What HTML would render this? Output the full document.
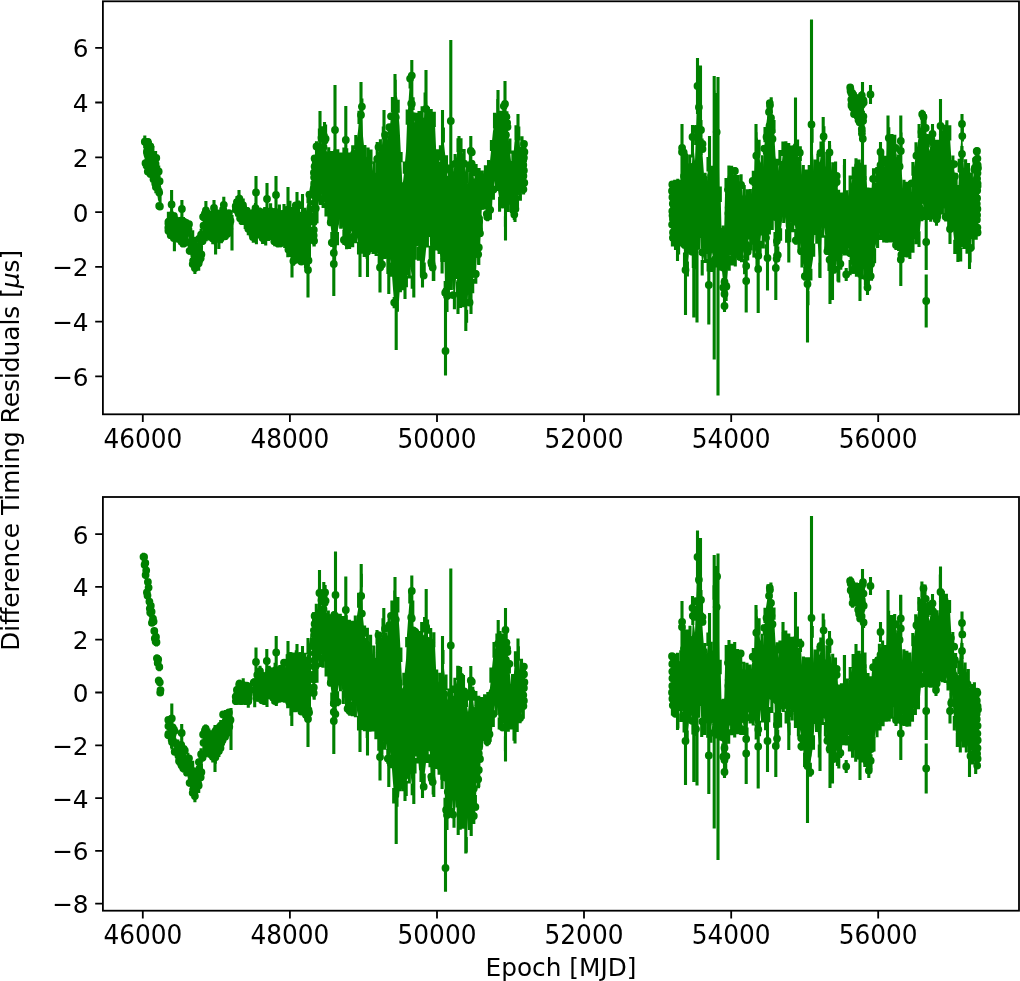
<!DOCTYPE html>
<html lang="en"><head><meta charset="utf-8"><title>Difference Timing Residuals</title>
<style>html,body{margin:0;padding:0;background:#fff}body{width:1020px;height:981px;overflow:hidden}</style></head>
<body>
<svg width="1020" height="981" viewBox="0 0 1020 981" style="display:block;font-family:'DejaVu Sans','Liberation Sans',sans-serif;font-size:24.8px;fill:#000">
<rect width="1020" height="981" fill="#fff"/>
<g id="p1"><polygon points="143.6,141.9 145.1,141.6 145.5,141.5 146.3,142.3 146.6,142.6 148,144 148.1,144.1 149.6,145.3 151.1,146.5 151.2,146.6 152.6,149.3 152.8,149.7 154.1,152.2 154.5,153 155.6,157.5 156.1,159.6 156.9,163.2 157.1,164.1 158,168.1 158.6,170.7 159.4,174.3 160.1,179.5 160.2,180.3 160.7,184 161.6,189.4 161.6,205.4 160.7,205.8 160.2,206 160.1,205.7 159.4,203.8 158.6,201.6 158,200 157.1,192.9 156.9,191.3 156.1,188 155.6,186 154.5,181.5 154.1,179.7 152.8,174 152.6,173.8 151.2,172.7 151.1,172.6 149.6,171.3 148.1,170.1 148,170 146.6,164.7 146.3,163.6 145.5,161.2 145.1,160 143.6,155.6" fill="#008000"/>
<polygon points="166.4,217.9 167.9,218.5 169,218 169.4,218 170.9,218 172.4,218 173.2,218 173.9,218 174,218 175.4,221 176.9,224.2 177.3,225 178.4,223.8 179,223.1 179.9,222.1 180,222 181.4,222.7 182.9,223.4 183,223.5 184.4,224.2 185.9,224.9 186,225 186.3,225.2 187.4,226 188.7,227 188.7,243.5 187.4,240.8 186.3,238.6 186,239 185.9,239.2 184.4,241.4 183,243.5 182.9,243.3 181.4,240.9 180,238.6 179.9,238.5 179,237 178.4,236.8 177.3,236.5 176.9,236.4 175.4,235.9 174,235.5 173.9,235.5 173.2,235.3 172.4,234.4 170.9,232.7 169.4,231 169,230.5 167.9,227.8 166.4,225.5" fill="#008000"/>
<polygon points="188.7,227 190.2,226.6 190.4,226.5 191.2,230.1 191.7,232.4 193.2,239.2 193.6,241 194.7,242.8 195.3,243.8 196,245 196.2,244.7 197.7,242 198.5,240.6 199.2,239.4 200,238 200.7,235.3 201.8,231.1 202.2,229.5 202.6,228 202.6,243.5 202.2,250.1 201.8,256.6 200.7,259.3 200,261 199.2,263 198.5,264.7 197.7,265.7 196.2,267.6 196,267.9 195.3,268.8 194.7,267.9 193.6,266.3 193.2,264.7 191.7,258.6 191.2,256.6 190.4,252.4 190.2,251.4 188.7,243.5" fill="#008000"/>
<polygon points="202.6,220 204.1,217.3 205.6,214.5 205.9,214 206.7,214.8 207.1,215.2 208.6,216.6 210,218 210.1,217.9 211.6,216 213.1,214.1 214,213 214.6,213.5 215.6,214.3 216.1,214.7 217.6,215.9 219,217 219.1,216.9 219.7,216 220.6,214.7 222.1,212.5 223.6,210.3 223.8,210 224.6,211 225.1,211.6 226.6,213.4 227.9,215 228.1,215.1 229.5,216 229.6,216 231.1,217 231.1,232.1 229.6,230.6 229.5,230.5 228.1,231.4 227.9,231.5 226.6,232.4 225.1,233.4 224.6,233.7 223.8,234.5 223.6,234.7 222.1,236.2 220.6,237.7 219.7,238.6 219.1,238.8 219,238.8 217.6,239.3 216.1,239.8 215.6,240 214.6,239.2 214,238.8 213.1,238.1 211.6,237 210.1,236 210,235.9 208.6,235 207.1,234 206.7,233.7 205.9,234.7 205.6,235.1 204.1,237.1 202.6,239" fill="#008000"/>
<polygon points="235,201.9 236.5,201.8 237.7,201.7 238,201.5 238.5,201 239.5,201.2 241,201.6 242.5,202 242.6,202 244,206.4 244.2,207 245.5,211.1 245.8,212 247,213.1 248.5,214.6 250,216 250,230.5 248.5,228.8 247,227.1 245.8,225.8 245.5,225.5 244.2,224 244,223.6 242.6,220.8 242.5,220.6 241,217.6 239.5,214.6 238.5,212.6 238,211.6 237.7,211 236.5,209.7 235,208" fill="#008000"/>
<polygon points="248.5,218.4 250,217 251.5,215.7 252,215.2 253,214.3 254.5,212.9 256,211.6 257.5,212.4 259,213.2 260.5,214 262,214.8 263.5,214.3 265,213.9 266.5,213.4 268,213 269.5,212.9 271,212.8 272.5,212.7 274,212.6 275.5,212.4 276,212.4 277,212.7 278.5,213.1 280,213.5 281.5,214 283,214.4 283,239.6 281.5,239.2 280,238.7 278.5,238.3 277,237.9 276,237.6 275.5,237.6 274,237.4 272.5,237.3 271,237.2 269.5,237.1 268,237 266.5,237.3 265,237.6 263.5,237.9 262,238.2 260.5,237.2 259,236.3 257.5,235.3 256,234.4 254.5,235.3 253,236.2 252,236.8 251.5,236.5 250,235.5 248.5,234.6" fill="#008000"/>
<polygon points="283,214.8 284.5,214.1 286,213.4 287.5,212.5 288,212 289,212.5 290.5,213.2 292,214 293.5,213.2 295,212.5 296.5,211.8 298,211 299.5,211.5 301,212 302.5,212.5 304,213 305.5,211.5 306,211 307,205 308,199 308.5,196 310,187 311,183 311,260 310,259 308.5,257.5 308,257 307,257 306,257 305.5,256.8 304,256 302.5,255.5 301,255 299.5,254.5 298,254 296.5,253.8 295,253.5 293.5,253.2 292,253 290.5,250.8 289,248.5 288,247 287.5,246.2 286,244.4 284.5,242.8 283,241.2" fill="#008000"/>
<polygon points="312.5,171 313,169 314.5,163 315,161 316,155.5 317,150 317.5,147.4 319,139.6 319.5,137 320.5,143 320.6,143.6 321,146 322,139.5 323,133 323.5,133.2 325,133.8 325.5,134 326,141.7 326.5,149.3 327,157 328,157.5 329.5,158.2 329.6,158.3 331,159 332.5,158 333.7,157.2 334,157 335.5,158 336.5,158.7 337,159 338,159.4 338.5,159.6 340,160.2 341.5,160.8 342,161 342.5,160.2 343,159.4 344.5,157 345,157.3 346,157.9 347.5,158.7 348,159 349,159 350.5,159 351.5,159 352,159 353.2,155.2 353.5,154.3 355,149.6 355.5,148 356,144.6 356.5,141.2 358,131 359.4,114.9 359.5,113.8 360,108 361,103.3 361.5,101 362,112.7 362.5,124.3 363,136 364,146 365,156 365.5,156.3 367,157.3 367.4,157.6 368,158 368.5,158.4 370,159.5 371.5,160.6 372,161 373,171 374.5,172.2 375,172.6 375.5,173 376,154 377,153.2 377.5,152.9 379,151.8 380,151 380.5,149.5 381,148 382,145 383,137.7 383.5,134.1 384.2,129 385,136.1 386,145 386.5,142.8 388,136.3 388.3,135 389,132 389.5,128.4 390,124.8 391,117.6 391.5,114 392.5,107.6 393,104.4 394,98 395.5,89.6 395.6,89 397,96.4 397.5,99 398.5,112.5 399,119.2 399.5,126 400,136 400.5,146 401,156 401.5,166 402.5,186 403,181.7 404,173 404.5,167.5 405.4,157.6 406,151 407,124 407.5,116.6 408,109.2 409,94.4 409.5,87 410.5,83 412,77 413.1,105.6 413.5,116 415,123 415.5,123.5 416.5,124.5 418,126 419,122.7 419.5,121 421,116 422.5,117 423,117.3 424,118 425.5,97.8 426.3,87 427,99.8 427.3,105.2 428,118 428.5,118 429.8,118 430,118 430.6,118.3 431.5,118.8 432,119 432.2,119.3 433,120.7 433.5,121.5 434.5,123.2 435,124 435.5,135.3 436,146.7 436.5,158 437.5,159.1 439,160.9 439.6,161.5 440,162 440.4,157 440.5,155.8 442,137.2 442.5,131 443.5,139.8 444.5,148.6 445,153 446.5,166.8 447.5,176 448,176 449.5,176 451,174.1 452,172.9 452.5,172.2 453.5,171 454,168.4 454.3,166.9 455.5,160.8 456,158.2 457,153.1 458,148 458.3,148 458.5,148 460,148 460.8,148 461.5,148 462,148 463,154 464,160 464.5,163 465,166 466,172 466.2,173.2 467.5,181 468,184 469,173 469.8,164.2 470.5,156.5 471,151 471.4,154.7 472,160.3 473,169.7 473.5,174.3 474,179 475,176 476,173 476.5,173.8 477,174.5 478,176 479,177.5 479.5,178.2 480,179 481,178.5 482,176.1 482.5,175.9 484,175.3 485,174.9 485.5,175.6 486,176 487,174.3 488.5,171.8 489,171 490,161 491,151 491.5,146 492,141 492.5,136 493,131 494.5,124.5 495,122.3 496,118 496.7,114.3 497.5,110.2 498.3,106 498.5,107.1 499,109.9 500,115.4 500.5,118.2 501,121 501.5,120.5 502,120 503,119 503.5,114.7 505,101.6 505.3,99 505.6,103.2 506.5,115.9 507,123 508,132.2 509.5,146 511,161 512.5,161 513,161 514,148.3 514.5,142 515.1,139.8 515.5,138.3 517,132.7 518,129 518.5,133.5 519.5,142.5 520,147 521.5,147 523,147 523.6,149.1 524.5,151.9 525,153 525,182.9 524.5,183.8 523.6,186 523,192 521.5,192 520,192 519.5,192 518.5,197.3 518,200 517,200 515.5,209.1 515.1,211.5 514.5,210 514,208.7 513,206.1 512.5,204.8 511,201 509.5,201 508,201 507,201 506.5,211.2 505.6,229.5 505.3,214 505,198.5 503.5,198.5 503,198.5 502,198.5 501.5,198.5 501,200.1 500.5,201.8 500,203.4 499,197.1 498.5,194 498.3,192.6 497.5,186.8 496.7,181 496,181 495,181 494.5,184.2 493,193.8 492.5,197 492,210 491.5,210 491,210 490,210 489,210 488.5,210 487,210 486,210 485.5,206.5 485,203.3 484,203.4 482.5,203.5 482,203.6 481,229 480,241.5 479.5,247.8 479,254 478,252.5 477,251 476.5,262.5 476,274 475,275.7 474,277.3 473.5,278.2 473,279 472,293.9 471.4,302.9 471,300.9 470.5,298.3 469.8,294.7 469,294.7 468,294.7 467.5,301.7 466.2,320 466,317.8 465,306.6 464.5,301.1 464,295.5 463,295.5 462,295.5 461.5,295.5 460.8,295.5 460,298 458.5,302.6 458.3,303.2 458,297.6 457,279 456,279 455.5,285.1 454.3,299.6 454,297 453.5,292.8 452.5,284.3 452,280 451,285 449.5,285 448,285 447.5,285 446.5,285 445,285 444.5,262 443.5,262 442.5,262 442,262 440.5,262 440.4,262 440,254 439.6,246 439,245.3 437.5,243.4 436.5,242.2 436,241.6 435.5,241 435,248.5 434.5,256 433.5,271 433,267.9 432.2,263 432,263 431.5,263 430.6,263 430,243.5 429.8,237 428.5,237 428,237 427.3,237 427,240 426.3,247 425.5,255 424,268.2 423,277 422.5,272.8 421,260 419.5,260 419,260 418,244 416.5,244 415.5,244 415,252.9 413.5,279.7 413.1,286.8 412,278.4 410.5,267 409.5,267 409,267 408,267 407.5,271 407,274.9 406,282.8 405.4,287.6 404.5,284 404,282 403,278 402.5,278.2 401.5,278.6 401,278.8 400.5,279 400,286.3 399.5,293.7 399,301 398.5,301 397.5,301 397,301 395.6,301 395.5,301 394,301 393,289 392.5,282.3 391.5,269 391,265.7 390,259 389.5,260.5 389,261.9 388.3,264 388,262.6 386.5,255.8 386,253.5 385,249 384.2,252.2 383.5,255 383,257 382,259 381,261 380.5,260 380,259 379,257 377.5,251 377,249 376,246.5 375.5,245.2 375,244 374.5,243.7 373,242.8 372,242.2 371.5,241.9 370,241 368.5,246.8 368,248.7 367.4,251 367,250.3 365.5,247.8 365,247 364,245.3 363,243.7 362.5,242.8 362,242 361.5,243.7 361,245.5 360,248.9 359.5,250.7 359.4,251 358,243.2 356.5,234.8 356,232 355.5,233.2 355,234.5 353.5,238.2 353.2,239 352,233.4 351.5,231 350.5,234.4 349,239.5 348,239.1 347.5,238.9 346,238.4 345,238 344.5,236.2 343,230.8 342.5,229 342,227 341.5,225 340,219 338.5,226.5 338,229 337,243.7 336.5,251 335.5,252.1 334,253.7 333.7,254 332.5,242.9 331,229 329.6,215 329.5,214.8 328,211.4 327,209.2 326.5,208.1 326,207 325.5,205.7 325,204.3 323.5,200.3 323,199 322,196.5 321,194 320.6,193 320.5,193.5 319.5,198.5 319,201 317.5,211 317,214.3 316,221 315,228.7 314.5,232.5 313,244 312.5,248" fill="#008000"/>
<polygon points="671.2,191 672.7,191 673,191 674.2,191 675.7,191 676,191 677.2,190.2 677.5,190 678.7,189.2 679,189 680.2,189 681,189 681.7,167.5 682.4,146 683,152.8 683.2,155 684,164 684.7,163.9 685.7,163.8 686.2,163.7 687.7,163.5 688,163.5 689.2,163.3 690,163.2 690.7,163.2 692,163 692.2,159 693,143 693.7,149.3 693.8,150.2 695,161 695.2,155 696,131 696.6,112.2 696.7,109.1 697.6,81 698.2,81 699,81 699.7,81 700.3,81 700.5,93.2 701.2,136 702,147.1 702.7,156.8 703,161 704.2,177 704.5,181 705.7,181 707,181 707.2,178.4 707.5,174.5 708.7,158.8 709.3,151 710.2,164.8 711,177 711.7,177 712,177 713,177 713.2,164.3 714,113.7 714.2,101 714.7,101 716.2,101 717.7,101 717.8,101 719.2,176.8 719.5,193 720,196.1 720.7,200.4 720.8,201 721.5,229 722,230.7 722.2,231.3 723.3,235 723.5,233 723.7,231 724.3,225 724.8,203.9 725.2,187 726.5,181.4 726.7,180.6 728,175 728.2,175 729.7,175 731.2,175 732.7,175 734,175 734.2,175.5 735,177.5 735.7,179.3 736,180 737,182.5 737.2,183 738,185 738.7,185 740.2,185 741.7,185 742,185 743,199 743.2,198.5 744.7,194.7 745,194 746,196.3 746.2,196.8 747.7,200.3 748,201 748.5,201 749.2,201 750,201 750.7,196.4 752,188 752.2,187.1 753.7,180.3 754,179 755.2,155 755.8,143 756.7,140.3 757.8,137 758.2,141.4 759.7,157.7 760,161 761,163 761.2,163.4 762.7,166.4 763,167 764,151 764.2,148.5 765,138.5 765.7,129.7 766,126 767.2,117 768,111 768.7,109.2 769.7,106.7 770,106 770.2,106.5 771.7,110.3 772,111 773.2,121.8 774,129 774.5,138 774.7,141.6 775.5,156 775.9,158.9 776.2,161.1 777,167 777.7,169.8 778,171 779.2,165 779.5,163.5 780,161 780.7,161 782,161 782.2,159 783.2,149 783.5,149.4 783.7,149.6 785,151.2 785.2,151.5 785.6,152 786.7,152.6 788.2,153.4 788.4,153.6 789.7,154.3 790.5,154.7 791,155 791.2,155.5 792.5,159 792.7,159 794.2,159 794.5,159 795,141.1 795.7,116 796.5,130.3 797.2,142.7 798,157 798.7,157 800,157 800.2,157 801,157 801.7,169.6 802,175 803.2,175.6 804,176.1 804.7,176.4 806,177.1 806.2,177.3 807.6,178 807.7,177.9 809.2,176.7 809.5,176.4 810,176 810.7,157.5 811,149.5 811.7,131 812.2,139.7 813,153.6 813.7,165.8 814,171 814.5,170 815.2,168.7 816.6,166 816.7,165.9 817,165.4 818.2,163.6 819.7,161.4 819.9,161.1 820,161 821.2,150.7 822,143.9 822.7,137.9 823.5,131 824,139.6 824.2,143 825.6,167 825.7,166.7 826.4,164.4 827.2,161.8 828,159.2 828.7,156.9 829.6,154 830.2,158.3 830.5,160.4 831.7,168.9 832,171 832.2,171.1 833.2,171.7 834.5,172.5 834.7,172.6 836,173.4 836.2,173.5 837,174 837.7,186.6 838.3,197.4 838.5,201 839.2,201.6 840.5,202.7 840.7,202.9 842,204 842.2,201.3 843.5,183.8 843.7,181.1 844.3,173 845.2,183.8 846.7,201.8 846.8,203 848.2,195.4 849,191 849.7,188.4 850,187.3 851.2,182.9 851.7,181 852.7,177.2 853.3,175 854.2,172.3 855,169.8 855.7,167.7 856.6,165 857.2,166.5 858.7,170.3 859,171 859.8,171.8 860.2,172.2 861.7,173.7 863,175 863.2,175.2 864,176 864.7,176 866,176 866.2,176 866.5,176 867.5,196 867.7,196.2 868,196.5 869.2,197.8 870.5,199.2 870.7,199.4 871,199.7 872,181 872.2,180.4 872.5,179.5 873,178 873.7,179.2 875.2,181.7 876,183 876.7,178.8 878,171 878.2,170.1 879.5,164 879.7,163.1 881,157 881.2,157.7 882.7,162.7 884,167 884.2,167 885,167 885.7,167 886,167 887.2,143 887.8,131 888.7,136.7 890,145 890.2,145.1 891.7,145.6 892,145.7 893.2,146.1 894.7,146.6 895,146.7 896,147 896.2,149.9 897.5,169 897.7,167.9 898.5,163.7 899,161 899.2,157.5 900.4,136.3 900.7,131 902,176 902.2,178.6 903,189 903.7,189.4 905.2,190.1 906.7,190.9 908.2,191.6 908.5,191.8 909.7,192.4 911,193 911.2,189.6 912,176 912.7,172.8 914,167 914.2,165.7 915,160.5 915.7,155.9 916,154 917.2,146.2 917.5,144.2 918,141 918.7,136.8 919.5,132 920,129 920.2,128.2 921,125 921.7,122.2 922,121 922.7,119.7 923.2,118.8 923.5,118.3 924.7,122.1 925,123 926.2,130.8 927,136 927.7,140.2 929,148 929.2,149.2 929.5,151 930.7,143 931,141 932,138.5 932.2,138 933.7,148.8 934,151 935.2,151.6 936.3,152.2 936.7,152.4 937,152.6 938.2,148.6 939,146 939.7,131 940,124.6 940.4,116 941.2,126 942,136 942.7,135.2 944.2,133.4 944.5,133 945,132.8 945.7,132.5 947,132 947.2,132.3 947.5,132.8 948.7,134.8 949.3,135.8 949.8,136.7 950,137 950.2,140.2 951.5,161 951.7,161.6 952,162.4 953.2,165.8 954,168 954.7,172.8 956,181.6 956.2,183 956.5,185 957.7,185 958,185 958.5,185 959.2,168.2 959.5,161 960.7,145.6 961,141.8 962,129 962.2,133 962.5,139 963.7,163 964,169 965,170 965.2,170.2 966,171 966.7,171.9 968,173.7 968.2,173.9 969,175 969.4,176.4 969.7,177.5 971,182 971.2,181.7 971.5,181.2 972.7,179.4 973,179 974,170 974.2,168.2 975,161 975.5,159.9 975.7,159.5 977,156.6 977.2,157 978,158.8 978.7,160.3 979,161 979,215.9 978.7,218.5 978,224.6 977.2,227.3 977,228 975.7,232.3 975.5,233 975,235 974.2,238.2 974,239 973,239 972.7,239 971.5,239 971.2,241.6 971,243.4 969.7,254.7 969.4,257.3 969,253.8 968.2,246.8 968,245 966.7,243.3 966,242.3 965.2,241.3 965,241 964,241.6 963.7,241.8 962.5,242.6 962.2,244.5 962,245.7 961,252 960.7,252 959.5,252.2 959.2,252.2 958.5,252.3 958,252.4 957.7,252.2 956.5,251.4 956.2,251.1 956,251 954.7,243.2 954,239 953.2,231.4 952,220 951.7,221.7 951.5,222.9 950.2,230.5 950,231.6 949.8,232.8 949.3,222 948.7,220.3 947.5,217 947.2,216 947,215.3 945.7,210.8 945,208.4 944.5,208.4 944.2,208.4 942.7,208.4 942,208.4 941.2,208.4 940.4,208.4 940,208.4 939.7,209 939,210.5 938.2,212.1 937,214.6 936.7,215.2 936.3,216 935.2,214.5 934,212.8 933.7,212.4 932.2,210.3 932,210 931,210 930.7,210 929.5,210 929.2,210 929,210 927.7,209.7 927,209.5 926.2,209.3 925,209 924.7,208.3 923.5,205.4 923.2,204.7 922.7,203.5 922,209.9 921.7,212.6 921,219 920.2,228.1 920,230.3 919.5,236 918.7,234.8 918,233.8 917.5,233 917.2,233.7 916,236.6 915.7,237.3 915,239 914.2,241.1 914,241.7 912.7,245.1 912,247 911.2,247.5 911,247.6 909.7,248.3 908.5,249 908.2,248.8 906.7,247.7 905.2,246.6 903.7,245.5 903,245 902.2,246.8 902,247.3 900.7,250.3 900.4,251 899.2,243.4 899,242.2 898.5,239 897.7,237.7 897.5,237.4 896.2,235.3 896,235 895,234 894.7,233.7 893.2,232.4 892,231.4 891.7,231.4 890.2,231.4 890,231.4 888.7,231.4 887.8,231.4 887.2,231.4 886,231.4 885.7,231.4 885,231.4 884.2,231.6 884,231.7 882.7,232.1 881.2,232.5 881,232.6 879.7,232.9 879.5,233 878.2,237.1 878,237.7 876.7,241.8 876,244 875.2,248.6 873.7,257.1 873,261.1 872.5,264 872.2,265.9 872,267.2 871,273.8 870.7,275.7 870.5,277 869.2,278.3 868,279.5 867.7,278.8 867.5,278.4 866.5,276.1 866.2,275.5 866,275 864.7,272.4 864,271 863.2,269.4 863,269 861.7,268.2 860.2,267.3 859.8,267 859,266.8 858.7,266.8 857.2,266.5 856.6,266.3 855.7,266.1 855,266 854.2,265.7 853.3,265.3 852.7,265.1 851.7,264.7 851.2,264.5 850,264 849.7,259.5 849,249 848.2,248.4 846.8,247.4 846.7,247.3 845.2,246.2 844.3,245.6 843.7,245.1 843.5,245 842.2,257.1 842,259 840.7,259 840.5,259 839.2,266.3 838.5,270.3 838.3,271.4 837.7,268.6 837,265.4 836.2,261.7 836,260.8 834.7,260.8 834.5,260.8 833.2,271.1 832.2,279 832,279 831.7,279 830.5,279 830.2,275.4 829.6,268.2 828.7,257.4 828,249 827.2,246 826.4,243 825.7,238.3 825.6,237.7 824.2,228.3 824,227 823.5,226.9 822.7,226.7 822,226.5 821.2,242 820,265.4 819.9,267.3 819.7,265.1 818.2,248.4 817,235 816.7,235 816.6,235 815.2,235 814.5,235 814,243 813.7,247.8 813,259 812.2,264.2 811.7,267.4 811,272 810.7,275.4 810,283.3 809.5,289 809.2,290.1 807.7,295.6 807.6,296 806.2,276.8 806,274 804.7,270.8 804,269 803.2,264.2 802,257 801.7,254.9 801,250 800.2,244.4 800,243 798.7,241.5 798,240.7 797.2,239.8 796.5,239 795.7,232.1 795,226 794.5,225.6 794.2,225.3 792.7,224 792.5,223.8 791.2,222.6 791,222.4 790.5,222 789.7,233.4 788.4,251.8 788.2,249.8 786.7,234.4 785.6,223.1 785.2,219 785,217 783.7,214.4 783.5,214 783.2,215.4 782.2,220.1 782,221 780.7,231.4 780,237 779.5,241 779.2,242.7 778,249.3 777.7,251 777,254.9 776.2,259.3 775.9,261 775.5,249.6 774.7,226.7 774.5,221 774,220.8 773.2,220.5 772,220 771.7,219.8 770.2,219.2 770,219.1 769.7,219 768.7,233 768,242.8 767.2,254 766,245.8 765.7,243.8 765,239 764.2,238.2 764,238 763,237 762.7,236.7 761.2,235.2 761,235 760,245.4 759.7,248.5 758.2,264 757.8,262.3 756.7,257.6 755.8,253.7 755.2,251.1 754,246 753.7,245 752.2,240.2 752,239.6 750.7,239.6 750,239.6 749.2,239.6 748.5,239.6 748,246.5 747.7,250.6 746.2,271.2 746,274 745,266.3 744.7,264 743.2,252.5 743,251 742,251.3 741.7,251.4 740.2,251.9 738.7,252.4 738,252.7 737.2,252.9 737,253 736,254 735.7,254.3 735,255 734.2,255 734,255 732.7,255 731.2,255 729.7,255 728.2,267.4 728,269 726.7,286.3 726.5,289 725.2,296.6 724.8,299 724.3,293.6 723.7,287.2 723.5,285 723.3,283.1 722.2,272.9 722,271 721.5,267.5 720.8,262.6 720.7,261.9 720,257 719.5,257.2 719.2,257.3 717.8,257.7 717.7,257.8 716.2,258.3 714.7,258.8 714.2,258.9 714,259 713.2,256.4 713,255.8 712,252.6 711.7,255.5 711,262.4 710.2,270.2 709.3,279 708.7,270.7 707.5,254 707.2,254 707,254 705.7,254 704.5,254 704.2,255.3 703,260.5 702.7,261.8 702,264.9 701.2,250.6 700.5,238 700.3,238 699.7,238 699,238 698.2,245 697.6,250.2 696.7,258.1 696.6,259 696,259 695.2,259 695,259 693.8,259 693.7,258.5 693,255.2 692.2,251.4 692,250.5 690.7,244.3 690,241 689.2,250.2 688,264 687.7,264.7 686.2,267.9 685.7,269 684.7,258.6 684,251.4 683.2,243.1 683,241 682.4,241 681.7,241 681,241 680.2,241 679,241 678.7,242.9 677.5,250.7 677.2,248.4 676,239 675.7,238.9 674.2,238.4 673,238 672.7,236.6 671.2,229.6" fill="#008000"/>
<path d="M144.8 135.4V148M147.9 138.5V145.5M150.4 141.2V151.9M152.9 146V173.3M155.6 150.9V176.8M158.7 165.4V177.3M145.5 159.5V167M147.8 167.4V175.3M150.5 171.4V176.6M153.5 176.1V182.6M155.9 180.7V193.3M159.2 203.9V208.1M168.4 211.7V235.1M171.7 211.5V218.9M175.1 214.3V224.4M177.3 219.8V224.9M180.9 218.4V222.9M183.5 217.1V244.5M186.6 219.3V226.9M168.3 220.7V234.7M170.7 231.7V238.8M173.8 236V240.3M177.6 225.8V242.6M180.1 217V244.6M183.6 239.4V247M186.1 239.7V244M189 221.4V226.9M192.7 230.2V250.8M196.2 240.9V258.9M198.9 235.5V242.2M201.1 228.8V240.7M189.6 247V254.5M192.7 260.1V268.1M194.9 261.7V274.1M198.7 255.8V270.8M201.4 245.9V262.8M203.1 212.6V220.9M205.6 207.8V228.2M208.9 210.1V222.2M211.5 211V222.9M215.1 207.7V218.7M218.1 209.8V220.9M220.7 210.2V221.5M223.1 206.3V212.4M225.5 208.2V219M228.9 210.1V216.4M202.6 236.8V244.9M206.2 230.7V241.2M209.4 230.5V240.6M212.8 232.7V244.2M215.4 232.2V245.2M218.9 233.2V245M221.3 228.3V243.3M225.1 233.2V239.5M227.5 230.3V237.4M237 196V216.5M239.4 194.7V202.7M243.2 198.6V215.1M246.8 208.4V212.9M235.8 205.8V213.4M238.5 207.4V219.3M242.2 218.3V224.2M245.2 209.3V229.1M248.3 222.2V235.2M249.5 217.2V221.5M252.7 215.7V218.5M255.5 202.9V216M258.4 219.9V216.9M261.6 212.6V218.6M264.7 207V218M267.7 209V217.1M270.6 203.3V216.8M273.5 221V216.6M276.6 208.5V216.6M279.4 204.6V217.4M282.5 210.5V218.2M250.2 231.7V236.5M253.3 232V242.7M256.4 230.6V244.2M259.5 232.6V238.4M262.6 234.1V244M265.7 233.5V245.4M268.6 233V240.9M271.5 233.3V240M274.7 233.5V246.2M277.8 234.1V247.4M280.6 234.9V247.2M284 203.9V218.3M286.8 207.2V216.9M289.9 200.7V216.9M292.8 207V217.6M295.6 208.1V216.2M298.6 200.5V215.2M301.7 218.9V216.2M304.9 207.8V216.1M308 191.8V203.3M284.7 239V248.1M287.8 242.6V257.3M290.5 246.8V257.1M293.4 249.2V265.7M296.6 249.8V263.2M299.5 250.5V263.2M302.4 251.5V260.6M305.5 252.8V268.6M308.4 253.4V266M313.5 158.4V171M316.5 141.2V156.5M319.4 128.6V141.6M322.4 126.3V140.9M325.6 124.4V139.9M328.7 147.3V161.9M331.7 150.9V162.5M334.7 149.6V161.5M337.8 149.3V163.3M340.9 152.4V164.5M343.9 147.4V162M346.7 148.2V162.3M349.7 152.6V163M352.7 145.3V160.7M355.8 134.9V149.8M359 110.7V123.9M361.9 98.4V113.4M364.9 144.9V158.6M368.1 147.5V162.1M371 149.4V164.2M374.2 161.2V176M377.2 141.9V157.1M380.4 139.2V153.9M383.3 126.6V139.5M386.3 131.9V147.5M389.2 124.5V134.8M392.4 96.9V112.5M395.3 79.7V94.4M398.2 99.8V112.7M401.1 152.1V162.3M404.3 161.6V173.8M407.2 109.4V124.7M410.1 74.1V88.6M413.1 97.3V110M416.1 112.8V128.1M419 111V126.6M422.1 106.3V120.7M425.1 92.5V106.7M428.4 106.9V122M431.2 108.9V122.6M434.3 111.7V126.9M437.5 149.2V163.1M440.4 145.3V160.7M443.4 127.6V142.6M446.5 155.2V170.9M449.4 164.4V180M452.2 162.2V176.6M455.1 154.1V166.9M458 138.3V152.2M461 138.3V152M464.1 149V164.7M467.3 169.5V183.6M470.4 147V161.9M473.2 162.2V175.9M476.1 164V177.1M479.1 167.9V181.6M482.2 170.4V180M485.4 165.2V179.4M488.5 160.1V175.9M491.4 140.1V150.9M494.5 112.8V128.4M497.7 99V113.4M500.7 110.7V123.2M503.8 102.5V115.8M506.9 111.3V125.9M509.9 138.4V153.8M512.9 150.6V165M516 125.2V140.6M518.8 126.4V140.4M522 136.3V151M524.8 142.4V156.5M314.2 230.8V246.4M317 210V223.2M320.3 190.7V205M323.1 195.2V208.1M326 203V216.6M328.9 209.4V223.2M331.8 232.1V247.1M334.6 249.1V262.2M337.5 232V245.3M340.7 217.7V228.7M343.9 229.9V244.9M346.6 234.6V249.2M349.6 233.6V249M352.7 232.5V247.3M355.6 229.1V243.3M358.5 241.8V254.4M361.4 240.1V253.8M364.2 241.7V257.1M367.1 246.4V258.7M370.1 237V252.1M373 238.8V253.9M376.1 242.7V256M379.2 253.4V268.9M382 255V269.6M385.1 245.5V259.1M387.9 258.3V274M391.1 262.6V276.7M394.2 297V308.3M397.4 297V311.8M400.4 276.9V292.2M403.5 275.9V290.2M406.4 275.5V287.3M409.2 263V278.4M412.2 275.6V288.7M415.2 244.8V259.7M418.4 246.6V260.8M421.4 259.3V274.8M424.2 262.4V275.3M427.4 233V247.4M430.2 245.7V260.4M433.3 265.6V281.1M436.2 237.9V250.4M439.1 241.4V253.9M442.1 258V273.6M445.2 281V296.3M448.2 281V295.9M451.3 279.7V290.1M454.4 294V309.3M457.3 281.4V296.6M460.5 292.6V307.9M463.6 291.5V307.2M466.6 309.8V322.8M469.6 290.7V306M472.7 279.1V293.3M475.8 270.3V283.8M478.6 249.4V264.2M481.3 216.4V231.3M484.4 199.3V209.4M487.5 206V221.3M490.4 206V219.8M493.4 187.5V199.7M496.5 177V190.9M499.6 196.8V211.8M502.5 194.5V207.3M505.4 216.3V226.7M508.2 197V212M511.4 198.1V213.3M514.3 205.5V220M517.5 196V209.6M520.4 188V200.8M523.6 181.9V194.6M671.7 182V195M674.7 179.7V195M677.8 178.7V193.8M680.9 179.7V193M683.7 148.8V164.1M686.5 153.4V167.7M689.7 154.5V167.3M692.5 145.7V157.6M695.7 130.1V144.9M698.9 70.4V85M702.1 138.6V152.1M705.1 172.7V185M708 157.1V171.6M711.2 165.7V181M714.3 90.5V105M717.4 93V105M720.3 186.4V201.9M723.1 225.4V238.4M726 177.9V187.5M728.9 165.5V179M731.6 165.7V179M734.9 167.3V181.2M737.9 174.9V188.8M741.1 174.3V189M744.2 185V199.9M747.4 189.2V203.6M750.3 189V203.1M753.3 170.7V186.3M756.2 132.2V145.9M759.1 139.8V155.2M762.2 155.3V169.3M765 126.9V142.3M768.1 102.5V114.7M771.2 97.2V113M774 119.9V132.9M777.1 158.7V171.3M779.9 150.1V165.4M782.9 141.4V156M785.9 141.2V156.2M788.7 143.1V157.7M791.5 145.5V160.3M794.7 143.7V156.8M797.6 139.6V153.2M800.3 146.3V161M803.3 165.1V179.7M806.4 169.5V181.4M809.2 165V180.6M812.1 128.3V142.7M814.9 159.4V173.3M817.9 153.7V168.1M821 141.5V156.4M823.9 126.2V141.7M826.8 152.1V167.1M829.6 145V158.1M832.8 162.3V175.5M835.6 161.4V177.2M838.6 189.8V205.1M841.5 192.5V207.6M844.4 164.9V177.6M847.2 190.2V204.7M850.1 175.4V190.8M853.2 166.7V179.4M856 158.3V170.8M859.1 159.6V175.1M862.2 163V178.2M865.1 164.7V180M867.9 187.4V200.4M870.7 187.8V203.4M873.5 168.2V182.9M876.8 167.6V182.5M879.8 154.2V166.6M882.7 153.2V166.8M885.7 155.8V171M888.8 127.3V141.4M892 134.1V149.7M894.8 134.8V150.6M898 154.6V170.3M901.1 132.4V147.3M904 179.7V193.5M906.9 181.7V195M909.8 181.1V196.4M912.9 162.1V175.8M916 142.3V157.9M919.1 124.1V138.1M922.2 109.7V124.6M925.1 114.3V127.7M928.3 134.5V147.6M931.3 131.4V144.3M934.4 140.3V155.2M937.5 139.8V154.8M940.5 110.2V121.3M943.7 124.8V137.9M946.9 120.3V136M949.8 125.3V140.6M952.9 155.5V168.9M956.1 173.1V186.2M959.2 158.8V172.5M962.4 126.2V141.4M965.6 159.2V174.6M968.5 163V178.3M971.4 172.4V185.4M974.1 157.9V172.8M976.9 147.5V160.8M672.4 231.2V246.4M675.5 234.8V250.1M678.6 239.9V254.6M681.7 237V246.5M684.5 252.5V267M687.4 261.4V276.5M690.5 239.4V253.5M693.3 252.7V268M696.1 255V269.3M699 234V249.8M702.2 260.1V275.6M705.3 250V263.1M708.1 258.9V271.5M711.1 257.6V272M714.3 254.9V269.7M717.2 253.9V267.6M720.2 254.1V267.9M723.2 277.9V292.4M726.1 287.5V301.1M729.2 255.2V270.7M732.2 251V265.4M735.3 250.7V266.5M738.4 248.5V257.7M741.5 247.5V262.2M744.6 259.1V274.2M747.7 247.2V260.5M750.7 235.6V250.6M753.9 241.8V257.4M757 254.8V269.6M760.1 240.7V255.9M763.2 233.2V248.6M766.4 244.3V260.1M769.4 219.1V234.4M772.2 216V230.1M775 231.9V246.3M777.8 246.6V261.7M780.6 228.2V240.8M783.7 210.4V223.1M786.6 229.2V242.8M789.8 227.4V242.3M792.8 220.1V232.2M795.8 229V244.8M799 237.9V252.5M802 252.7V267.5M804.8 266.9V280.8M808 290.7V305.2M810.9 268.7V280.5M813.7 243.5V256.7M816.8 231V243.8M819.8 262.7V277M822.8 222.7V237.8M825.8 235.2V248.9M829 256.9V270.9M831.8 275V288.7M834.9 256.8V270.8M838 265.9V281.6M840.8 255V269.8M843.9 241.3V255.6M847 243.6V255.4M850.1 260.1V275.3M853.3 261.3V273.8M856.4 262.3V276.8M859.3 262.9V277.6M862.2 264.5V279.3M865.4 269.9V285.2M868.4 275.1V289.8M871.5 266.8V280.8M874.6 248.2V263.2M877.6 235V248.1M880.6 228.7V240M883.7 227.8V242.6M886.7 227.4V242.7M889.8 227.4V242.4M892.6 227.9V242.4M895.7 230.7V241.7M898.6 235.4V251M901.4 244.8V260M904.2 241.9V257.1M906.9 243.9V257.4M909.9 244.2V259.1M913 240.3V252.7M916.2 232.1V244.2M919 231.3V246.9M921.9 206.8V221.3M924.9 204.7V219.9M928 205.7V219.9M930.7 206V221.7M933.6 208.2V219.6M936.5 211.5V225.7M939.6 205.3V218.8M942.4 204.4V214.6M945.7 206.7V221.4M948.7 216.4V230.8M951.8 217.2V231.1M954.8 239.7V253.9M957.9 248.4V261.9M960.7 248V261.5M963.9 237.7V248.9M967 239.6V253.8M970.1 247V262.5M973.1 235V249.5M976.2 226.7V239.8M850.5 86.3V92.6M850.2 84.4V90.7M851.5 102.2V109.2M850.6 88.6V94M851.3 88.6V97.5M851.3 96.2V103M851.5 99.8V108.8M852.3 89.8V96.3M852.2 88.6V101M852.6 101.7V111.5M852.5 102V112.7M853 90.9V98.1M853.7 105.1V111.8M853.4 97.7V107.5M853.9 97V107.4M854 111.4V116.7M854.4 97.7V103.7M854.6 104.3V113.5M854.7 108V114.2M855.4 102.5V108.4M855.4 99.2V106.5M855.2 92.6V102.1M855.8 109.1V119M855.5 101.3V106.4M856.3 105.4V112.2M856.7 96.8V108M856.7 98.5V110.3M856.2 103.7V113.4M857.1 101.2V112.3M857 103.3V116.2M857 97.1V105.6M857.4 107.4V114.7M858.5 115.7V124.1M858.6 105.6V118.3M858 113.8V119.2M858.1 98V111M858.5 96V101.6M859.6 103V113.2M859.8 104.5V110.2M859.3 112.9V123.4M859.9 96.8V109.8M859.6 118.8V125.6M860 111.9V122.1M860.2 109.6V115.8M860.9 101.2V110.5M861.2 117.5V125.4M860.8 99.1V110.1M861.9 102.1V107.4M861.8 126.3V131.6M861.9 128.3V133.5M861.8 91.2V99.7M861.9 130.6V136.4M862.8 134.9V142.5M863.1 115.2V126.4M863.4 110.8V122.2M863.7 98.3V106.6M863.5 96.1V105M171.6 190V219M181.9 200V218M215.6 215V254.6M232 215V250.5M214 200V216M223.8 196.7V213M205.9 201V220M218.9 220V249M174.4 225V251.3M239 190V205M256 176V209M267 183V215M276 176V214M288 187V225M297 192V225M302.5 194V225M292 230V277.5M308 242V297.5M320 111V200M324.5 122V200M335 85V175M345.8 106V174M361 82V148M384 110V200M395 74V200M411.8 60V148M426 70V148M442.5 110V200M450.8 40V202M459 136V200M470.8 136V166M498 90V150M505 81V127M518 114V180M333.8 200V296M360 220V277M367.5 220V277M380 243V292.5M388.8 250V294M396.2 260V350M405 250V299M413.8 250V297.5M422.5 240V287.5M433.8 230V281M445.5 285V375.5M447 280V312M458 280V314M465.8 280V331M471 280V314M478.8 225V265M505.5 190V240.5M515 190V222M682 124V180M692.5 125V149M697.5 58V114M700.5 65.5V200M701 120V155M709.5 136V200M714.2 76V359.5M718 77V395.5M756 124V200M795.5 97.5V200M811.5 19.5V229.5M823.2 117V200M829.5 141V164M844.5 159V220M870.5 85V104M862.5 82V175M880.5 142V162M888 115.5V200M900.8 115.5V166M932.5 124V144M940.5 99V153M946.8 122V140M962 114V134M962 146V162M677.5 230V261M685.5 225V315M693.8 230V317.5M697 230V322.5M708.8 245.5V324.5M724.5 270V312M746.2 250V312.5M758.2 225V313M767.5 225.5V290.5M775.8 236V300M788.8 220V262.5M807.5 226V342.5M820 230V278M830 240V304M832.5 240V300M838.8 240V282.5M846.2 268V281M860 250V301M867.5 278V295M900.8 233V286M896 240V250M926.2 200V270M926.2 274.5V327.5M950 214V244M969.5 230V269M935 210V222" fill="none" stroke="#008000" stroke-width="3.1"/>
<path d="M144.8 141.7h0M147.9 142h0M150.4 146.5h0M152.9 159.7h0M155.6 163.9h0M158.7 171.4h0M145.5 163.2h0M147.8 171.4h0M150.5 174h0M153.5 179.3h0M155.9 187h0M159.2 206h0M155.2 183.5h0M152.7 159.7h0M159.9 206.5h0M153.9 170.7h0M159.2 192.6h0M146.5 143.1h0M146.5 165.5h0M157.6 179.8h0M150.8 161.7h0M146.9 151.9h0M159.6 181.2h0M150 171.1h0M156.7 178.7h0M156.3 157.9h0M158.9 191.3h0M154.6 161.7h0M156.7 177.1h0M150 170.6h0M148.7 153.1h0M168.4 223.4h0M171.7 215.2h0M175.1 219.4h0M177.3 222.3h0M180.9 220.6h0M183.5 230.8h0M186.6 223.1h0M168.3 227.7h0M170.7 235.2h0M173.8 238.1h0M177.6 234.2h0M180.1 230.8h0M183.6 243.2h0M186.1 241.8h0M180.2 239.4h0M179.3 238.7h0M173.9 215.8h0M188.5 229.3h0M179.6 232.6h0M175.2 237.4h0M179 238.5h0M183.2 234.8h0M181.5 241.6h0M172.7 229.5h0M168.4 222h0M175 227.7h0M180.7 233.4h0M171.6 226.7h0M183.3 243.7h0M168.4 230.3h0M172.6 224.1h0M184.5 243h0M171.2 219h0M180.9 222.8h0M178.4 223.7h0M187.1 233.1h0M172.7 216h0M168.4 230.8h0M183 241.6h0M183.8 221.7h0M189 224.2h0M192.7 240.5h0M196.2 249.9h0M198.9 238.9h0M201.1 234.7h0M189.6 250.8h0M192.7 264.1h0M194.9 267.9h0M198.7 263.3h0M201.4 254.4h0M199.2 246.7h0M198.4 261.4h0M200.7 258.3h0M193.2 264.2h0M198 258.1h0M195 248.9h0M194 246.8h0M194.4 265.6h0M194.3 255.6h0M193.1 260.8h0M197.3 256.5h0M194.7 262.4h0M202.2 239.9h0M198.1 261.1h0M191.5 246.6h0M194.6 254.2h0M203.1 216.8h0M205.6 218h0M208.9 216.2h0M211.5 217h0M215.1 213.2h0M218.1 215.4h0M220.7 215.9h0M223.1 209.3h0M225.5 213.6h0M228.9 213.2h0M202.6 240.9h0M206.2 236h0M209.4 235.5h0M212.8 238.5h0M215.4 238.7h0M218.9 239.1h0M221.3 235.8h0M225.1 236.3h0M227.5 233.8h0M207.9 232.4h0M215.1 232.8h0M219 235.1h0M230.5 220.9h0M208.4 233.7h0M209.6 225h0M210 234.4h0M223.8 226h0M215.5 216.1h0M204.2 216.5h0M216.9 213.4h0M208.6 215.7h0M225.1 221.4h0M211 217.1h0M203.4 216.8h0M219.3 234.6h0M226.4 220.3h0M213.3 233.3h0M223.7 220.9h0M217 226h0M217.9 227h0M229.7 222.9h0M225.3 230.6h0M203.5 225.7h0M222.6 235.4h0M215.7 213h0M229.3 228.7h0M208.8 217.3h0M210.1 229.7h0M204.9 213.6h0M214.7 227.6h0M205.7 212h0M220.5 239h0M237 207.2h0M239.4 198.7h0M243.2 206.9h0M246.8 210.7h0M235.8 209.6h0M238.5 213.3h0M242.2 221.2h0M245.2 219.2h0M248.3 228.7h0M239.8 202.1h0M235.7 206.2h0M243.9 212.8h0M240.1 214.7h0M243 205.2h0M248.8 225.9h0M241.7 204.6h0M239.2 208.9h0M240.9 206.4h0M249 213.7h0M249.1 217.1h0M247.8 224.1h0M248.9 222h0M238.9 207.6h0M236.9 202.1h0M238.9 208.4h0M240.1 218.3h0M255.5 208.2h0M258.4 234.2h0M264.7 211.8h0M270.6 211.1h0M273.5 225.8h0M282.5 214h0M250.2 229.6h0M262.6 238h0M268.6 232.9h0M271.5 235.8h0M277.8 243.2h0M280.6 243.3h0M276.1 229.7h0M251.3 228.6h0M256.5 217.1h0M255.7 230.2h0M280.1 241.3h0M273 222.5h0M267.6 234.1h0M259 211.2h0M277.3 236.8h0M263.5 216.5h0M280.4 222.7h0M272.9 218.4h0M265 212.5h0M252.9 236.9h0M282.2 222.3h0M254 225.4h0M255.5 223.2h0M263.4 214.7h0M262.4 217.3h0M253.6 212.6h0M273.7 225.3h0M255 216.7h0M270.7 220.3h0M274.5 211.8h0M255.8 231.8h0M269.2 212.3h0M274.3 241.3h0M286.8 212.9h0M295.6 217.5h0M301.7 222.4h0M293.4 261.1h0M296.6 259.3h0M299.5 257.9h0M302.4 255.8h0M305 254h0M295.8 205.5h0M301.4 261.5h0M286.7 209.9h0M295.1 223.2h0M308.5 260.4h0M300 205.2h0M304.5 253h0M297.1 253h0M296.9 229.3h0M306.6 216.7h0M284.9 241h0M299.1 231.6h0M309.4 194.6h0M297.5 256.8h0M288.4 249.5h0M306.7 231.2h0M290 249.8h0M302.6 229.4h0M298.1 243h0M309.6 215.6h0M300.5 233.7h0M314.6 158.5h0M314.6 166.4h0M313.9 172.7h0M314.1 177.3h0M314.2 183.2h0M314.3 189.4h0M314.5 195.8h0M314.3 202.8h0M313.9 208.8h0M314 216.7h0M313.7 221.9h0M313.8 229.9h0M313.7 235.5h0M314.1 240.8h0M524 144h0M524.4 151.9h0M523.9 157.7h0M523.3 164.9h0M523.9 170.5h0M523.4 175.9h0M524.3 182.7h0M523.4 189.3h0M316.5 146.5h0M322.4 133.7h0M361.9 106.6h0M377.2 158.9h0M410.1 78.6h0M455.1 163.9h0M482.2 177.1h0M503.8 106.1h0M331.8 242.6h0M343.9 239.9h0M367.1 251.7h0M382 264.5h0M385.1 254.4h0M394.2 302.6h0M445.2 292.7h0M469.6 302.5h0M475.8 273.9h0M508.2 191.4h0M514.3 214.6h0M387 244.3h0M489.5 209.7h0M418.9 163.7h0M464.3 163.6h0M336.6 172.4h0M385 179.1h0M476 202.9h0M314.5 187.5h0M378.8 249.5h0M342 181h0M471.8 152.3h0M326 155.1h0M343.3 200.3h0M421.4 229.7h0M453.9 246.4h0M368.6 223.7h0M480 233.3h0M511.1 201h0M481.7 206.1h0M332.8 212.9h0M463.9 231.5h0M385.5 226.1h0M453.1 295.1h0M422.9 198.5h0M459.9 263.5h0M354.7 154.4h0M477.1 183.8h0M478.4 217.6h0M502.6 204.5h0M520.4 178.9h0M417 138.8h0M411.2 103.6h0M415.3 117h0M372.6 237h0M441.6 190.9h0M486.8 213.9h0M315.4 174.3h0M365.3 176h0M440.2 243.8h0M444.3 170.9h0M413.2 232.3h0M419.6 133.5h0M472.1 245.1h0M487.3 217h0M380.7 232.5h0M428.9 182.5h0M404.2 185.9h0M352.9 180.1h0M373.8 199h0M523.2 160.4h0M384 166.2h0M324.7 140.5h0M431.7 264.3h0M477.4 189.8h0M370.9 201.7h0M328.8 158.5h0M413.3 116.2h0M497.2 171.1h0M469.6 168.2h0M388.4 204.1h0M501.8 127.7h0M473.6 209.6h0M381.8 229.7h0M504.7 189h0M405.5 229.4h0M391 116.3h0M381 160.6h0M505.4 196.9h0M472.8 233.6h0M478.3 190.7h0M448.7 256.2h0M468.4 247.4h0M315.8 208.3h0M403.9 228.9h0M479.1 221.3h0M507.1 122.9h0M423.7 275.6h0M458.7 239.9h0M514.3 190.7h0M431.2 122.9h0M438.8 226.8h0M405.2 272.1h0M376 222.6h0M460.7 235.5h0M411.8 75.6h0M321.5 137.7h0M363 208.6h0M518.7 172h0M469.6 248.5h0M435.2 197.6h0M373.3 191.1h0M330.7 222.4h0M453 234.6h0M385 134.8h0M498.7 175.4h0M514.7 197.7h0M478.2 254.3h0M395.8 117.3h0M387.8 157.9h0M394.2 128.4h0M474 221.7h0M425.8 223.1h0M485.4 189.3h0M402.6 253.3h0M401.3 241.2h0M471.7 163.7h0M433 176.1h0M321.2 171.4h0M391.8 151.2h0M369.5 207.1h0M328.7 191.4h0M320.9 181.4h0M413.6 220.1h0M342.9 206.6h0M368.6 243.7h0M354.1 153.6h0M408.4 234.8h0M510.6 165.1h0M393.8 233.3h0M344.1 182.5h0M433.6 163.1h0M327.3 186.7h0M317.2 164.2h0M452.9 276h0M440.9 248.6h0M440.8 194.1h0M389.3 127.2h0M378.5 147.1h0M487.2 175.5h0M431.8 212.4h0M386.8 189.9h0M455.6 242.9h0M461.2 265.8h0M455.7 213.2h0M455.5 259.9h0M493.5 189.5h0M424.8 123.8h0M432.7 267.4h0M479.6 232.7h0M443.2 219.4h0M406.8 267.7h0M347.6 243h0M421.2 206.9h0M455.2 199.1h0M446.1 291.2h0M480.4 187.4h0M484.5 193.1h0M387.8 184.9h0M462.5 248.7h0M325.6 138.7h0M442.1 239.3h0M321 150.1h0M505.2 121.7h0M416.6 161.6h0M503.6 114.6h0M422.9 239.1h0M437.7 225h0M372.6 210h0M389 195.6h0M431.3 262.2h0M431.8 169.4h0M416.3 242.2h0M519.7 175.7h0M389.9 174h0M498.1 116.9h0M418 187.3h0M416.2 139.5h0M515.4 209h0M394.7 184.8h0M490.2 209.8h0M458.1 213.7h0M380.3 220.8h0M356.6 187.6h0M513.7 210h0M672.3 184.5h0M672 191h0M672.4 197.2h0M672.8 203.7h0M672.3 211.2h0M672.9 219.1h0M672.1 224.6h0M673 232.5h0M672.9 237.7h0M976.7 151.2h0M977.4 158.6h0M977.7 165.2h0M977.5 173.1h0M977.1 178.7h0M977.6 183.7h0M977.2 190.5h0M977.1 198.2h0M976.8 203.8h0M977.4 208.9h0M977.1 215.1h0M976.9 219.7h0M977.4 227.6h0M977.6 232.5h0M683.7 152.3h0M711.2 176h0M734.9 171h0M741.1 185h0M794.7 148.9h0M888.8 137.9h0M922.2 114.2h0M976.9 151.5h0M690.5 246.8h0M726.1 285.6h0M747.7 251.7h0M777.8 255.1h0M795.8 240.3h0M804.8 276.2h0M853.3 269.9h0M901.4 254.7h0M942.4 198h0M945.7 216.7h0M857.8 172.4h0M800.4 198.8h0M766.6 152.3h0M858.5 238.8h0M672.5 215.6h0M760.3 181.3h0M835.4 200.5h0M880.3 198.1h0M844 242.3h0M879.2 214.5h0M789.7 226h0M878 170.6h0M839.7 205.6h0M768.1 176.7h0M852.6 228.8h0M974.5 185h0M794.4 216.3h0M895.6 147.8h0M831.4 229.8h0M908.1 247h0M810 253.1h0M673.7 205.6h0M844.9 250.8h0M769.8 103.1h0M896.2 178.4h0M876.3 217.4h0M701.5 221.6h0M799.8 152.7h0M917.7 198.7h0M937.2 213.1h0M740.4 206.9h0M708.1 234.9h0M928.3 155.1h0M916.4 155.7h0M674.3 221.6h0M864.9 192.4h0M740 198.6h0M829.6 259.7h0M734.3 247.8h0M870.7 276.1h0M801.2 251.2h0M764.3 148.6h0M713.8 230.6h0M677.7 231.9h0M833.7 235.9h0M891.1 143.8h0M880.5 165.2h0M820.5 152.9h0M740.1 257h0M759 221.6h0M854.4 202.8h0M826.2 190.9h0M936.7 219.2h0M942.8 134.7h0M977.6 185.9h0M873.1 178.8h0M846.4 231.4h0M820.1 176h0M896 201.2h0M893.1 159.3h0M847.3 200.3h0M840.4 263.8h0M823.6 136.5h0M684 176.2h0M812.4 226.1h0M776.9 241.1h0M747 210.6h0M726.4 286.6h0M738.7 201h0M850.5 211.5h0M974.8 168h0M752.7 181h0M946.4 136.8h0M684.3 231.7h0M875.3 234.9h0M682.1 147.9h0M705.2 201.1h0M736.4 218.3h0M780 208.1h0M712.9 201.2h0M974.6 195.8h0M961.7 240.9h0M865.7 197.6h0M861.5 193.1h0M708.4 196.4h0M777 255.6h0M702.4 252.5h0M850.1 253.2h0M744 234.4h0M923.6 138.2h0M686.7 217.8h0M723.2 287.4h0M860.6 210.2h0M848 226.9h0M766 237.8h0M942.7 190.9h0M698.9 107.2h0M802.5 230.4h0M741.7 233.4h0M715.4 259h0M727.9 189.6h0M909.7 197.7h0M941.9 189.5h0M938.5 202.9h0M728.4 213.3h0M953.7 203.4h0M814 179.8h0M962.3 136.1h0M935.2 195.5h0M836.7 181.9h0M942.6 147h0M883.6 170.6h0M844.7 245.5h0M855.8 253.3h0M744.3 235.1h0M949.5 173.4h0M716.8 225h0M706 221.3h0M963.7 188.3h0M907.9 219.4h0M809.7 175h0M677.7 198.8h0M690.3 173.8h0M716.7 132.1h0M853.3 197.3h0M951.1 212.9h0M692.7 180.4h0M698.5 209.8h0M923.7 140.8h0M835.6 238.2h0M720.8 266.8h0M835 183.4h0M905.5 235.4h0M706.7 231.9h0M758.3 255.8h0M890.2 195.3h0M781.3 207.9h0M933.1 142.8h0M791.5 206.6h0M758.5 207.6h0M918.8 152.7h0M798.6 222h0M864.2 205.9h0M828.3 248.5h0M772.6 169.6h0M739.2 228.6h0M895.1 160.9h0M849.1 224.1h0M963.7 175.7h0M827.4 251.2h0M677.7 192.8h0M675.8 200.1h0M714.3 189.3h0M825.3 224h0M719.6 231.4h0M864 222.5h0M943.8 175.1h0M973.2 214.6h0M692.3 238.8h0M974.3 181.2h0M868 237h0M932.9 172.9h0M893.9 166.2h0M838.3 249.9h0M970.5 248h0M695.2 192h0M926.8 160.8h0M700.8 211.3h0M737.9 205.8h0M866.8 277.2h0M794.7 206.1h0M902.7 192.5h0M760.3 214.6h0M756.3 155.7h0M811 198.1h0M791.1 152.8h0M837.5 215.9h0M736.1 184.4h0M871.1 264.1h0M939.9 184.3h0M972.3 195.3h0M808.2 177.3h0M831.6 226h0M840.8 249.2h0M954.9 176.3h0M945.9 152.4h0M675 227.6h0M974.4 169.7h0M832.8 251.7h0M843.3 217.1h0M734.7 204.5h0M946 203.1h0M742.8 208h0M783.2 170.3h0M894.8 166.4h0M746.5 245h0M954.2 164.1h0M738.4 216.8h0M793.1 202.3h0M919.7 207.9h0M765.6 206.2h0M728.7 207.4h0M806.9 203.5h0M962.4 243.2h0M905.4 231.8h0M871 252h0M869.9 238h0M897 199.6h0M919.6 200h0M882.4 162.3h0M861.5 232.4h0M931.4 139.2h0M899.6 166.5h0M880.2 174.7h0M710 226.7h0M950.9 163.8h0M833.5 269.9h0M723.1 267.5h0M934.9 188.9h0M836.7 175.9h0M829.9 191.9h0M755.9 210.1h0M728.9 245.1h0M754.1 241.1h0M792.3 158.5h0M791.7 153.7h0M967.6 179.3h0M957.4 225.5h0M845.3 215.2h0M684.7 244.9h0M975.7 213h0M852.5 197.2h0M827.1 189.3h0M938.3 206.9h0M692.2 251.8h0M892.3 154.3h0M931.4 156h0M723.4 243.5h0M829.3 212.3h0M950.5 211.8h0M679.9 234h0M703.7 179h0M938.9 149.7h0M911.6 183.4h0M965.5 171.5h0M710.3 218.2h0M780.9 204h0M776.6 258.7h0M730.3 183.6h0M858.1 166h0M850.5 89.4h0M850.2 87.5h0M851.5 105.7h0M850.6 91.3h0M851.3 93.1h0M851.3 99.6h0M851.5 104.3h0M852.3 93.1h0M852.2 94.8h0M852.6 106.6h0M852.5 107.4h0M853 94.5h0M853.7 108.5h0M853.4 102.6h0M853.9 102.2h0M854 114.1h0M854.4 100.7h0M854.6 108.9h0M854.7 111.1h0M855.4 105.5h0M855.4 102.9h0M855.2 97.4h0M855.8 114.1h0M855.5 103.9h0M856.3 108.8h0M856.7 102.4h0M856.7 104.4h0M856.2 108.6h0M857.1 106.8h0M857 109.7h0M857 101.3h0M857.4 111h0M858.5 119.9h0M858.6 112h0M858 116.5h0M858.1 104.5h0M858.5 98.8h0M859.6 108.1h0M859.8 107.3h0M859.3 118.1h0M859.9 103.3h0M859.6 122.2h0M860 117h0M860.2 112.7h0M860.9 105.9h0M861.2 121.5h0M860.8 104.6h0M861.9 104.7h0M861.8 128.9h0M861.9 130.9h0M861.8 95.4h0M861.9 133.5h0M862.8 138.7h0M863.1 120.8h0M863.4 116.5h0M863.7 102.4h0M863.5 100.5h0M171.6 204.5h0M181.9 209h0M214 208h0M223.8 204.8h0M205.9 210.5h0M256 192.5h0M267 199h0M276 195h0M308 270h0M335 130h0M345.8 140h0M361 115h0M411.8 104h0M426 109h0M450.8 121h0M470.8 151h0M505 104h0M333.8 242h0M333.8 253h0M333.8 264h0M380 267.5h0M445.5 351h0M447 296h0M478.8 230h0M478.8 247.5h0M682 152h0M692.5 137h0M697.5 86h0M701 130h0M701 145h0M811.5 124.5h0M829.5 152.5h0M870.5 94.5h0M880.5 152h0M900.8 141h0M900.8 151h0M932.5 134h0M940.5 126h0M946.8 131h0M962 124h0M962 154h0M685.5 270h0M708.8 285h0M724.5 282h0M724.5 294h0M724.5 306h0M746.2 266h0M746.2 281h0M758.2 269h0M767.5 258h0M775.8 268h0M807.5 262h0M807.5 272h0M807.5 284h0M846.2 274.5h0M867.5 287.5h0M900.8 259.5h0M896 245h0M926.2 242h0M926.2 301h0M950 229h0M935 215h0M770 105h0M769 112h0M771 118h0M769.5 126h0M771.5 131h0M768 138h0M772.5 139h0M766.5 137h0M770 146h0M923.5 117h0M921.5 132h0M925.7 128h0M927.3 138h0M923 142h0M977 151h0M976 160h0M978 168h0M506.5 117h0M507.5 127h0M506 135h0M503 118h0M499.5 120h0M498 135h0M324 136h0M323.5 147h0M695.5 129h0M702.5 144h0M702.5 149h0" fill="none" stroke="#008000" stroke-width="7.8" stroke-linecap="round"/></g>
<g id="p2"><polygon points="166.4,721.4 167.9,722.5 169,722.7 169.4,723.4 170.9,726.2 172.4,728.9 173.2,730.3 173.9,731.6 174,731.8 175.4,737.7 176.9,744.1 177.3,745.8 178.4,745.9 179,745.9 179.9,746 180,746 181.4,747.8 182.9,749.9 183,750 184.4,751.9 185.9,753.9 186,754 186.3,754.8 187.4,757.8 188.7,761.4 188.7,776.8 187.4,771.6 186.3,767.2 186,767.2 185.9,767.2 184.4,767.3 183,767.4 182.9,767.2 181.4,764.2 180,761.5 179.9,761.3 179,759.5 178.4,758.1 177.3,755.4 176.9,754.5 175.4,750.9 174,747.5 173.9,747.3 173.2,745.6 172.4,743.4 170.9,739.4 169.4,735.3 169,734.3 167.9,731.5 166.4,728.6" fill="#008000"/>
<polygon points="188.7,761.4 190.2,759.4 190.4,759.2 191.2,762 191.7,763.8 193.2,769.2 193.6,770.6 194.7,772.1 195.3,773 196,774 196.2,773.2 197.7,767.6 198.5,764.6 199.2,762 200,759 200.7,755.4 201.8,749.7 202.2,747.6 202.6,745.5 202.6,760 202.2,766.8 201.8,773.6 200.7,778.2 200,781.1 199.2,784.4 198.5,787.3 197.7,789.7 196.2,794.3 196,794.9 195.3,797 194.7,796.1 193.6,794.5 193.2,793.1 191.7,788 191.2,786.3 190.4,783.3 190.2,782.5 188.7,776.8" fill="#008000"/>
<polygon points="202.6,737.8 204.1,734.5 205.6,731.2 205.9,730.5 206.7,731.8 207.1,732.5 208.6,734.9 210,737.2 210.1,737.1 211.6,735.5 213.1,733.9 214,733 214.6,732.6 215.6,732.1 216.1,731.8 217.6,730.9 219,730.1 219.1,729.7 219.7,727.7 220.6,724.6 222.1,719.5 223.6,714.4 223.8,713.7 224.6,713.7 225.1,713.8 226.6,713.9 227.9,714 228.1,714.2 229.5,715.3 229.6,715.3 231.1,716.5 231.1,730.3 229.6,728.3 229.5,728.1 228.1,729.9 227.9,730.2 226.6,731.8 225.1,733.8 224.6,734.4 223.8,736.8 223.6,737.4 222.1,741.8 220.6,746.3 219.7,749 219.1,750.4 219,750.6 217.6,753.9 216.1,757.3 215.6,758.5 214.6,757.7 214,757.2 213.1,756.5 211.6,755.3 210.1,753.5 210,753.4 208.6,751.7 207.1,750 206.7,749.5 205.9,750.7 205.6,751.2 204.1,753.4 202.6,755.6" fill="#008000"/>
<polygon points="235,692.4 236.5,690.2 237.7,688.4 238,688.1 238.5,687.2 239.5,686.1 241,684.4 242.5,682.7 242.6,682.6 244,684.9 244.2,685.3 245.5,687.4 245.8,687.9 247,687.9 248.5,687.9 250,687.8 250,701.3 248.5,701.2 247,701.1 245.8,701 245.5,701 244.2,700.9 244,700.8 242.6,700 242.5,700 241,699.1 239.5,698.2 238.5,697.7 238,697.4 237.7,697.4 236.5,698.7 235,700.4" fill="#008000"/>
<polygon points="253,682.4 254.5,678.2 256,674 257.5,674.4 259,674.8 260.5,675.2 262,675.6 263.5,675 265,674.3 266.5,673.6 268,673 269.5,672.9 271,672.8 272.5,672.7 274,672.5 275.5,672.4 276,672.4 277,672.2 278.5,672 280,671.7 281.5,671.5 283,671.2 283,698.8 281.5,698.5 280,698.3 278.5,698 277,697.8 276,697.6 275.5,697.6 274,697.5 272.5,697.3 271,697.2 269.5,697.1 268,697 266.5,697.4 265,697.7 263.5,698 262,698.4 260.5,698.3 259,698.2 257.5,698.1 256,698 254.5,699.8 253,701.6" fill="#008000"/>
<polygon points="283,669.6 284.5,668.2 286,666.8 287.5,664.7 288,664 289,664.2 290.5,664.6 292,665 293.5,664.2 295,663.5 296.5,662.8 298,662 299.5,662.2 301,662.5 302.5,662.8 304,663 305.5,661.5 306,661 307,655.5 308,650 308.5,647 310,638 311,634 311,707 310,707 308.5,707 308,707 307,707 306,707 305.5,706.8 304,706 302.5,705.5 301,705 299.5,704.5 298,704 296.5,704.2 295,704.5 293.5,704.8 292,705 290.5,703.9 289,702.8 288,702 287.5,701.5 286,700 284.5,699.2 283,698.4" fill="#008000"/>
<polygon points="312.5,626.2 313,625 314.5,621.3 315,620 316,615.3 317,610.6 317.5,608.3 319,601.4 319.5,599.1 320.5,605.3 320.6,605.9 321,608.4 322,602.3 323,596.2 323.5,596.2 325,596.5 325.5,596.6 326,603.9 326.5,611.2 327,618.4 328,619.4 329.5,621 329.6,621.1 331,622.5 332.5,621.6 333.7,620.9 334,620.8 335.5,621.5 336.5,622 337,622.2 338,623.1 338.5,623.5 340,624.8 341.5,626 342,626.4 342.5,625.9 343,625.4 344.5,623.7 345,624.5 346,625.9 347.5,628 348,628.7 349,629.7 350.5,631.1 351.5,632 352,632.5 353.2,629.7 353.5,629 355,625.4 355.5,624.3 356,621.3 356.5,618.4 358,609.6 359.4,595 359.5,594 360,588.8 361,584.8 361.5,582.9 362,594.3 362.5,605.7 363,617.2 364,627.2 365,637.2 365.5,637.7 367,639.2 367.4,639.6 368,640.2 368.5,640.8 370,642.6 371.5,644.4 372,644.9 373,655 374.5,656.9 375,657.6 375.5,658.2 376,640.2 377,640.2 377.5,640.2 379,640.1 380,640.1 380.5,639.1 381,638.1 382,636.1 383,630 383.5,627 384.2,622.7 385,630.2 386,639.7 386.5,638.1 388,633.1 388.3,632.2 389,629.9 389.5,626.8 390,623.6 391,617.4 391.5,614.3 392.5,608.7 393,605.9 394,600.3 395.5,593 395.6,592.6 397,600.4 397.5,603.2 398.5,616.7 399,623.5 399.5,630.3 400,640.3 400.5,650.4 401,660.5 401.5,670.7 402.5,691 403,687.2 404,679.7 404.5,674.7 405.4,665.8 406,659.9 407,634.5 407.5,627.8 408,621 409,607.4 409.5,600.6 410.5,597.4 412,592.6 413.1,620.5 413.5,630.6 415,637.8 415.5,638.4 416.5,639.7 418,641.6 419,638.6 419.5,637.2 421,632.8 422.5,634.1 423,634.6 424,635.5 425.5,616.4 426.3,606.3 427,618.9 427.3,624.3 428,636.8 428.5,637 429.8,637.6 430,637.7 430.6,638.2 431.5,639 432,639.4 432.2,639.8 433,641.5 433.5,642.5 434.5,644.5 435,645.5 435.5,656.6 436,667.7 436.5,678.8 437.5,680.3 439,682.6 439.6,683.5 440,684.1 440.4,679.5 440.5,678.3 442,661 442.5,655.2 443.5,664.1 444.5,673 445,677.4 446.5,690.7 447.5,699.6 448,699.6 449.5,699.6 451,698.1 452,697.2 452.5,696.7 453.5,695.8 454,693.4 454.3,692 455.5,686.5 456,684.2 457,679.5 458,674.9 458.3,675 458.5,675 460,675.4 460.8,675.6 461.5,675.8 462,676 463,682 464,688 464.5,691 465,694 466,700 466.2,701.2 467.5,709.1 468,712.1 469,701.6 469.8,693.2 470.5,685.9 471,680.7 471.4,684.3 472,689.6 473,698.6 473.5,703 474,707.5 475,704.6 476,701.6 476.5,702.3 477,703 478,704.4 479,705.8 479.5,706.5 480,707.2 481,706.5 482,703.6 482.5,703.2 484,702.3 485,701.7 485.5,702.2 486,702.7 487,701 488.5,698.3 489,697.3 490,687.5 491,677.7 491.5,672.8 492,668 492.5,663.1 493,658.2 494.5,651.8 495,649.6 496,645.3 496.7,641.7 497.5,637.6 498.3,633.5 498.5,634.5 499,637.1 500,642.4 500.5,645 501,647.6 501.5,647 502,646.5 503,645.4 503.5,641.2 505,628.4 505.3,625.9 505.6,629.9 506.5,642 507,648.8 508,657.5 509.5,670.6 511,684.8 512.5,684.6 513,684.6 514,672.2 514.5,666.1 515.1,663.8 515.5,662.4 517,656.8 518,653.1 518.5,657.4 519.5,665.9 520,670.2 521.5,670 523,669.8 523.6,671.8 524.5,674 525,675 525,703.8 524.5,704.7 523.6,706.5 523,712.4 521.5,712.6 520,712.8 519.5,712.8 518.5,718.1 518,720.7 517,720.8 515.5,729.8 515.1,732.1 514.5,730.7 514,729.6 513,727.2 512.5,726.1 511,722.6 509.5,722.8 508,723 507,723.1 506.5,733 505.6,750.7 505.3,735.8 505,721 503.5,721.1 503,721.2 502,721.3 501.5,721.4 501,723 500.5,724.7 500,726.3 499,720.4 498.5,717.4 498.3,716.1 497.5,710.6 496.7,705.1 496,705.2 495,705.3 494.5,708.5 493,717.9 492.5,721 492,733.6 491.5,733.7 491,733.8 490,734 489,734.2 488.5,734.3 487,734.6 486,735 485.5,732 485,729 484,729.3 482.5,729.8 482,730 481,754.3 480,766.5 479.5,772.6 479,778.7 478,777.3 477,775.9 476.5,787 476,798.1 475,799.8 474,801.4 473.5,802.3 473,803.1 472,817.6 471.4,826.2 471,824.3 470.5,821.8 469.8,818.3 469,818.2 468,817.9 467.5,824.6 466.2,841.9 466,839.7 465,828.7 464.5,823.2 464,817.7 463,817.5 462,817.3 461.5,817.1 460.8,817 460,819.1 458.5,823.2 458.3,823.7 458,818.2 457,800 456,799.7 455.5,805.4 454.3,819.1 454,816.5 453.5,812.3 452.5,803.8 452,799.5 451,804.1 449.5,804 448,803.9 447.5,803.9 446.5,803.8 445,803.8 444.5,781.4 443.5,781 442.5,780.6 442,780.4 440.5,779.8 440.4,779.8 440,771.9 439.6,764.1 439,763.1 437.5,760.8 436.5,759.2 436,758.4 435.5,757.6 435,764.6 434.5,771.7 433.5,785.7 433,782.5 432.2,777.5 432,777.4 431.5,777.2 430.6,776.8 430,757.8 429.8,751.4 428.5,750.9 428,750.7 427.3,750.4 427,753.2 426.3,759.7 425.5,767.1 424,779.4 423,787.6 422.5,783.4 421,770.7 419.5,770.3 419,770.2 418,754.5 416.5,754 415.5,753.7 415,762.2 413.5,787.5 413.1,794.3 412,785.7 410.5,773.9 409.5,773.3 409,772.9 408,772.2 407.5,775.7 407,779.2 406,786.1 405.4,790.3 404.5,786.2 404,783.9 403,779.3 402.5,779 401.5,778.3 401,778 400.5,777.7 400,784.4 399.5,791.1 399,797.8 398.5,797.5 397.5,797 397,796.7 395.6,796 395.5,795.9 394,795.1 393,783 392.5,776.3 391.5,762.8 391,759.3 390,752.3 389.5,753.3 389,754.3 388.3,755.6 388,754 386.5,746.1 386,743.5 385,738.2 384.2,740.6 383.5,742.6 383,744.1 382,745.2 381,746.2 380.5,744.8 380,743.5 379,740.7 377.5,733.9 377,731.7 376,728.6 375.5,727 375,725.5 374.5,725 373,723.4 372,722.4 371.5,721.9 370,720.3 368.5,725.2 368,726.9 367.4,728.8 367,728 365.5,725.1 365,724.1 364,722.1 363,720.1 362.5,719.1 362,718.1 361.5,719.5 361,720.9 360,723.7 359.5,725.1 359.4,725.3 358,716.9 356.5,707.8 356,704.7 355.5,705.6 355,706.5 353.5,709.1 353.2,709.6 352,703.2 351.5,700.6 350.5,702.9 349,706.4 348,705.1 347.5,704.5 346,702.5 345,701.2 344.5,699.3 343,693.4 342.5,691.4 342,689.2 341.5,687.1 340,680.6 338.5,687.1 338,689.3 337,703.2 336.5,710.1 335.5,711.3 334,713.1 333.7,713.5 332.5,702.6 331,689.1 329.6,674.9 329.5,674.6 328,670.9 327,668.5 326.5,667.3 326,666 325.5,664.8 325,663.7 323.5,660.1 323,658.9 322,656.4 321,653.8 320.6,652.7 320.5,653.2 319.5,657.5 319,659.7 317.5,668.8 317,671.9 316,678 315,684.2 314.5,687.3 313,696.6 312.5,699.7" fill="#008000"/>
<polygon points="671.2,662.6 672.7,662.8 673,662.8 674.2,663 675.7,663.1 676,663.2 677.2,662.5 677.5,662.4 678.7,661.7 679,661.6 680.2,661.6 681,661.6 681.7,640.9 682.4,620.1 683,626.6 683.2,628.8 684,637.4 684.7,637.3 685.7,637.1 686.2,637.1 687.7,636.8 688,636.8 689.2,636.6 690,636.5 690.7,636.3 692,636.1 692.2,632.3 693,616.8 693.7,622.4 693.8,623.2 695,632.8 695.2,626.8 696,603.2 696.6,584.7 696.7,581.6 697.6,554 698.2,554.3 699,554.8 699.7,555.2 700.3,555.5 700.5,567.4 701.2,609 702,620.2 702.7,630 703,634.2 704.2,649.7 704.5,653.6 705.7,653.7 707,653.8 707.2,651.3 707.5,647.6 708.7,632.6 709.3,625.1 710.2,638.5 711,650.4 711.7,650.4 712,650.4 713,650.5 713.2,638.4 714,589.6 714.2,577.4 714.7,577.4 716.2,577.5 717.7,577.5 717.8,577.5 719.2,650.5 719.5,666.2 720,669.2 720.7,673.3 720.8,673.9 721.5,700.9 722,702.5 722.2,703.2 723.3,706.7 723.5,704.8 723.7,702.9 724.3,697.1 724.8,676.8 725.2,660.5 726.5,655.2 726.7,654.4 728,649.1 728.2,649.1 729.7,649.3 731.2,649.4 732.7,649.5 734,649.6 734.2,650.1 735,652.1 735.7,653.8 736,654.5 737,657 737.2,657.5 738,659.5 738.7,659.6 740.2,659.7 741.7,659.8 742,659.8 743,673.4 743.2,673 744.7,669.5 745,668.8 746,671.1 746.2,671.6 747.7,675.1 748,675.8 748.5,675.8 749.2,675.9 750,676 750.7,671.6 752,663.6 752.2,662.8 753.7,656.4 754,655.1 755.2,632.2 755.8,620.7 756.7,618.3 757.8,615.4 758.2,619.7 759.7,635.8 760,639 761,641.2 761.2,641.6 762.7,644.9 763,645.5 764,630.4 764.2,628.1 765,618.8 765.7,610.8 766,607.3 767.2,599.6 768,594.4 768.7,593.3 769.7,591.7 770,591.2 770.2,591.8 771.7,596.4 772,597.3 773.2,608.5 774,615.9 774.5,624.8 774.7,628.4 775.5,642.7 775.9,645.6 776.2,647.8 777,653.7 777.7,656.6 778,657.9 779.2,652.5 779.5,651.1 780,648.8 780.7,649.1 782,649.4 782.2,647.6 783.2,638.2 783.5,638.6 783.7,638.9 785,640.7 785.2,641 785.6,641.6 786.7,642.4 788.2,643.5 788.4,643.6 789.7,644.6 790.5,645.2 791,645.5 791.2,646.1 792.5,649.7 792.7,649.7 794.2,650 794.5,650.1 795,632.8 795.7,608.7 796.5,622.4 797.2,634.4 798,648.1 798.7,648 800,647.9 800.2,647.9 801,647.9 801.7,660 802,665.1 803.2,665.9 804,666.5 804.7,666.9 806,667.8 806.2,667.9 807.6,668.8 807.7,668.8 809.2,667.8 809.5,667.6 810,667.3 810.7,649.6 811,642 811.7,624.3 812.2,632.7 813,646.2 813.7,657.9 814,663 814.5,662.1 815.2,660.9 816.6,658.4 816.7,658.3 817,657.8 818.2,656.2 819.7,654.2 819.9,654 820,653.8 821.2,644 822,637.5 822.7,631.7 823.5,625.2 824,633.5 824.2,636.8 825.6,660 825.7,659.7 826.4,657.6 827.2,655.1 828,652.7 828.7,650.5 829.6,647.8 830.2,651.9 830.5,654 831.7,662.2 832,664.3 832.2,664.4 833.2,665.1 834.5,665.9 834.7,666 836,666.8 836.2,667 837,667.5 837.7,679.6 838.3,690 838.5,693.4 839.2,693.8 840.5,694.5 840.7,694.6 842,695.3 842.2,692.6 843.5,675.4 843.7,672.7 844.3,664.7 845.2,674.9 846.7,691.8 846.8,692.9 848.2,685.1 849,680.6 849.7,677.7 850,676.5 851.2,671.7 851.7,669.7 852.7,665.9 853.3,663.7 854.2,661 855,658.6 855.7,656.5 856.6,653.8 857.2,655.2 858.7,658.7 859,659.4 859.8,660.1 860.2,660.5 861.7,661.9 863,663.1 863.2,663.3 864,664 864.7,664.1 866,664.2 866.2,664.3 866.5,664.3 867.5,683.7 867.7,683.9 868,684.2 869.2,685.6 870.5,687 870.7,687.2 871,687.6 872,669.5 872.2,669 872.5,668.1 873,666.6 873.7,667.9 875.2,670.6 876,672 876.7,668.1 878,660.8 878.2,659.9 879.5,654 879.7,653.1 881,647.1 881.2,647.7 882.7,651.6 884,655 884.2,654.9 885,654.1 885.7,653.5 886,653.2 887.2,628.7 887.8,616.4 888.7,620.8 890,627.2 890.2,627.1 891.7,626.1 892,625.9 893.2,625.1 894.7,624.2 895,624 896,623.3 896.2,626 897.5,643.7 897.7,642.6 898.5,638.1 899,635.2 899.2,631.7 900.4,610.7 900.7,605.4 902,648.4 902.2,650.8 903,660.7 903.7,660.8 905.2,661.2 906.7,661.6 908.2,661.9 908.5,662 909.7,662.3 911,662.6 911.2,659.3 912,646 912.7,642.8 914,636.8 914.2,635.5 915,630.3 915.7,625.7 916,623.7 917.2,616.3 917.5,614.5 918,611.4 918.7,607.5 919.5,602.9 920,600.1 920.2,599.3 921,596.4 921.7,593.7 922,592.6 922.7,591.4 923.2,590.6 923.5,590.1 924.7,593.6 925,594.4 926.2,601.8 927,606.7 927.7,610.7 929,618.1 929.2,619.2 929.5,620.9 930.7,612.8 931,610.8 932,608 932.2,607.5 933.7,617.4 934,619.3 935.2,619.5 936.3,619.6 936.7,619.7 937,619.7 938.2,615.5 939,612.6 939.7,597.9 940,591.6 940.4,583.2 941.2,593.1 942,603 942.7,602.4 944.2,601.2 944.5,600.9 945,600.9 945.7,600.9 947,600.9 947.2,601.5 947.5,602.5 948.7,606.3 949.3,608.2 949.8,609.8 950,610.4 950.2,614 951.5,637.1 951.7,638.1 952,639.7 953.2,646.1 954,650.4 954.7,656.4 956,667.5 956.2,669.2 956.5,671.7 957.7,674 958,674.6 958.5,675.5 959.2,660.5 959.5,654.1 960.7,641.2 961,638 962,627.4 962.2,631.6 962.5,637.9 963.7,663.1 964,669.4 965,671.9 965.2,672.4 966,674.4 966.7,676.2 968,679.6 968.2,680.1 969,682.2 969.4,684.6 969.7,686.4 971,694.2 971.2,694.8 971.5,695.5 972.7,698.5 973,699.3 974,695.2 974.2,694.4 975,691.2 975.5,692.7 975.7,693.4 977,697.5 977.2,698.2 978,701.1 978.7,703.6 979,704.7 979,756.8 978.7,758.8 978,763.7 977.2,763.3 977,763.2 975.7,762.5 975.5,762.4 975,761.7 974.2,760.5 974,760.2 973,756.3 972.7,755.1 971.5,750.3 971.2,751.9 971,752.9 969.7,759.7 969.4,761.2 969,757.3 968.2,749.5 968,747.5 966.7,744.2 966,742.3 965.2,740.3 965,739.7 964,738.6 963.7,738.3 962.5,736.9 962.2,738.2 962,739.1 961,743.4 960.7,743 959.5,741.1 959.2,740.7 958.5,739.6 958,738.8 957.7,738 956.5,734.9 956.2,734.1 956,733.5 954.7,723.4 954,718 953.2,708.6 952,694.4 951.7,695.4 951.5,696 950.2,700.2 950,700.8 949.8,701.5 949.3,690 948.7,687.4 947.5,682.1 947.2,681 947,680.3 945.7,675.5 945,673 944.5,672.8 944.2,672.7 942.7,672.3 942,672.1 941.2,671.9 940.4,671.7 940,671.6 939.7,672.3 939,673.9 938.2,675.8 937,678.6 936.7,679.3 936.3,680.3 935.2,679.2 934,678.1 933.7,677.8 932.2,676.3 932,676.1 931,676.4 930.7,676.5 929.5,676.8 929.2,676.9 929,677 927.7,676.8 927,676.7 926.2,676.6 925,676.5 924.7,675.8 923.5,673.2 923.2,672.5 922.7,671.4 922,677.4 921.7,680 921,686.1 920.2,694.8 920,696.9 919.5,702.3 918.7,701.1 918,700 917.5,699.2 917.2,699.9 916,702.7 915.7,703.4 915,705.1 914.2,707.4 914,707.9 912.7,711.6 912,713.6 911.2,714.2 911,714.4 909.7,715.4 908.5,716.4 908.2,716.3 906.7,715.6 905.2,714.9 903.7,714.2 903,713.8 902.2,715.8 902,716.4 900.7,719.6 900.4,720.4 899.2,713.7 899,712.6 898.5,709.8 897.7,709 897.5,708.8 896.2,707.5 896,707.3 895,706.9 894.7,706.9 893.2,707.3 892,707.5 891.7,707.9 890.2,709.6 890,709.9 888.7,711.4 887.8,712.4 887.2,713.1 886,714.5 885.7,714.9 885,715.7 884.2,716.3 884,716.5 882.7,717.5 881.2,718.7 881,718.9 879.7,719.9 879.5,720.1 878.2,723.7 878,724.3 876.7,728 876,730 875.2,734.3 873.7,742.3 873,746 872.5,748.7 872.2,750.6 872,751.8 871,758.1 870.7,760 870.5,761.2 869.2,762.3 868,763.4 867.7,762.7 867.5,762.2 866.5,760 866.2,759.3 866,758.8 864.7,756.2 864,754.8 863.2,753.1 863,752.7 861.7,752 860.2,751.2 859.8,751 859,750.9 858.7,750.9 857.2,750.7 856.6,750.6 855.7,750.5 855,750.4 854.2,750.3 853.3,750.1 852.7,750 851.7,749.9 851.2,749.8 850,749.6 849.7,745.4 849,735.6 848.2,735.3 846.8,734.8 846.7,734.8 845.2,734.2 844.3,733.9 843.7,733.6 843.5,733.5 842.2,745.6 842,747.5 840.7,747.9 840.5,747.9 839.2,755.3 838.5,759.3 838.3,760.5 837.7,757.8 837,754.7 836.2,751.1 836,750.2 834.7,750.2 834.5,750.2 833.2,760 832.2,767.6 832,767.5 831.7,767.5 830.5,767.4 830.2,764 829.6,757 828.7,746.5 828,738.4 827.2,735.5 826.4,732.5 825.7,728 825.6,727.3 824.2,718.2 824,716.9 823.5,716.8 822.7,716.5 822,716.3 821.2,731.2 820,753.6 819.9,755.4 819.7,753.3 818.2,737.1 817,724.1 816.7,724.1 816.6,724.1 815.2,724 814.5,723.9 814,731.6 813.7,736.2 813,746.9 812.2,751.8 811.7,754.9 811,759.2 810.7,762.4 810,770 809.5,775.3 809.2,776.3 807.7,781.4 807.6,781.7 806.2,762.9 806,760.2 804.7,756.8 804,755 803.2,750.4 802,743.3 801.7,741.3 801,736.7 800.2,731.3 800,730 798.7,728.6 798,727.9 797.2,727.1 796.5,726.4 795.7,719.7 795,713.9 794.5,713.4 794.2,713.1 792.7,711.5 792.5,711.3 791.2,709.9 791,709.7 790.5,709.2 789.7,720 788.4,737.5 788.2,735.5 786.7,720.4 785.6,709.3 785.2,705.3 785,703.3 783.7,700.5 783.5,700.1 783.2,701.4 782.2,705.6 782,706.4 780.7,716.1 780,721.3 779.5,725 779.2,726.5 778,732.6 777.7,734.1 777,737.6 776.2,741.7 775.9,743.2 775.5,732 774.7,709.6 774.5,704.1 774,703.5 773.2,702.7 772,701.4 771.7,701.1 770.2,699.6 770,699.4 769.7,699 768.7,711.7 768,720.6 767.2,730.8 766,721.9 765.7,719.7 765,714.6 764.2,713.6 764,713.4 763,712.2 762.7,711.8 761.2,710 761,709.8 760,719.5 759.7,722.4 758.2,737.1 757.8,735.3 756.7,730.6 755.8,726.7 755.2,724.1 754,718.9 753.7,717.9 752.2,713.2 752,712.5 750.7,712.4 750,712.3 749.2,712.3 748.5,712.2 748,718.8 747.7,722.8 746.2,742.5 746,745.1 745,737.7 744.7,735.4 743.2,724.2 743,722.7 742,723 741.7,723 740.2,723.4 738.7,723.7 738,723.9 737.2,724.1 737,724.2 736,725 735.7,725.3 735,725.9 734.2,725.9 734,725.9 732.7,725.8 731.2,725.6 729.7,725.5 728.2,737.3 728,738.9 726.7,755.5 726.5,758 725.2,765.4 724.8,767.6 724.3,762.4 723.7,756.2 723.5,754.1 723.3,752.3 722.2,742.4 722,740.6 721.5,737.2 720.8,732.5 720.7,731.8 720,727 719.5,727.2 719.2,727.3 717.8,727.7 717.7,727.7 716.2,728.2 714.7,728.6 714.2,728.8 714,728.8 713.2,726.3 713,725.7 712,722.5 711.7,725.3 711,731.8 710.2,739.3 709.3,747.7 708.7,739.6 707.5,723.4 707.2,723.4 707,723.4 705.7,723.2 704.5,723.1 704.2,724.3 703,729 702.7,730.2 702,732.9 701.2,718.6 700.5,706.1 700.3,706 699.7,705.7 699,705.2 698.2,711.9 697.6,716.9 696.7,724.4 696.6,725.3 696,725.7 695.2,726.2 695,726.4 693.8,727.2 693.7,726.8 693,723.7 692.2,720.2 692,719.3 690.7,713.6 690,710.6 689.2,719.5 688,732.8 687.7,733.4 686.2,736.6 685.7,737.7 684.7,727.8 684,720.8 683.2,712.8 683,710.8 682.4,710.9 681.7,710.9 681,710.9 680.2,710.9 679,710.9 678.7,712.7 677.5,720 677.2,717.8 676,708.6 675.7,708.5 674.2,707.8 673,707.3 672.7,705.9 671.2,699" fill="#008000"/>
<path d="M143.5 552.8V560.7M143.8 554.2V559.8M144.1 553.7V560M144.6 561.3V568M145.3 558.6V567.2M145.6 571.7V578.4M146.2 567.5V573.3M146.9 589.2V595.5M147.5 591.1V599.7M147.9 579.1V584.8M148.6 584.2V590.9M149.4 597.7V605.4M149.8 604.4V612.7M150.2 608.1V617.1M150.8 601.6V609.8M151.2 608V616.7M151.6 609V614.5M151.9 619.9V625.7M152.4 618.9V624.1M153 614.9V622.3M153.6 618.1V624.7M154.3 628.3V633.5M154.8 635V642M155.6 637.2V645.8M156 632.8V641M156.5 637.8V646.5M156.9 654.4V662.3M157.7 659V667M158.2 655.1V663.7M158.7 676.8V684.4M159.3 662.5V671.3M159.8 678.9V685.6M160.2 688.9V696.1M160.5 686.9V693.2M168.3 718V722M172 722.3V749.4M174.5 728.9V733.2M177.9 739.4V762.3M181.2 741.5V748M184.8 747.9V753.1M187.9 752.8V770.8M168.2 731.1V738.9M171.6 731.7V747.9M174.7 749.7V754M178.4 747.4V764.2M181 741.7V769.2M184.5 764.1V771.7M187 770.6V774.9M189 755.5V761.1M192.7 760.7V781.3M196.2 769.4V787.5M198.9 758.8V765.4M201.1 748.3V760.2M189.6 779.1V786.5M192.7 788.8V796.8M194.9 789.9V802.3M198.7 778.1V793M201.4 763.7V780.6M203.1 730.2V738.6M205.6 724.5V744.9M208.9 728.6V740.7M211.5 730.5V742.4M215.1 726.1V737.2M218.1 724.1V735.2M220.7 719.9V731.2M223.1 711.4V717.5M225.5 709.9V720.7M228.9 709.3V715.5M202.6 753.4V761.6M206.2 746.6V757.2M209.4 747.6V757.8M212.8 751.1V762.6M215.4 750.7V763.7M218.9 745.2V757M221.3 735.4V750.5M225.1 733.5V739.9M227.5 729.2V736.2M237 683.5V704.8M239.4 679.7V687.6M243.2 678.3V694.9M246.8 683.3V687.9M235.8 697.3V704.9M238.5 692.4V704.3M242.2 698.1V704M245.2 685.1V704.9M248.3 694.8V707.8M254 678.3V683.6M257.2 674.8V678.3M260 665.8V679.1M262.9 682.2V679.2M266.1 671.8V677.8M269.2 665.8V676.9M272.2 668.4V676.7M275.1 662.8V676.5M278 680.1V676M281.1 666.9V675.5M254.7 695.6V707.2M257.8 694.1V701.4M260.8 694.3V700.5M263.9 694V705M267 693.2V707.1M270.1 693.2V699.3M273.2 693.4V703.8M276.3 693.7V706.1M279.2 694.1V702.7M282.1 694.7V702.3M284 658.9V672.7M287.2 654.2V669.1M290.2 652.2V668.5M293.2 652.8V668.4M296.3 650.3V666.8M299.2 653V666.2M302 653V666.7M304.9 652.7V666.1M308 638.1V654.2M284.7 695.3V702.8M287.7 697.7V708.3M290.9 700.2V715.7M294.1 700.7V711.8M297.2 700.1V710.3M300.3 700.8V713.5M303.1 701.7V712M305.9 703V719.4M309.1 703V716.5M313.5 612.3V627.7M316.3 603.8V618.1M319.4 587.7V603.5M322.3 589.3V604.7M325.1 585V600.5M328.3 610.6V623.8M331.3 614.3V626.3M334.3 611.3V624.9M337.2 613.5V626.4M340.3 613.8V629M343.2 616V629.2M346.3 615.3V630.3M349.4 619.8V634.1M352.3 620.8V635.7M355.3 615.5V628.6M358.6 592.8V607.7M361.4 573.8V587.3M364.6 625.4V636.7M367.4 627.8V643.6M370.6 634.8V647.3M373.8 645.5V660M377 629.9V644.2M379.8 635.4V644.1M383 618.2V633.9M386.1 632.5V643.5M389.1 618.4V633.3M391.9 600.6V616.2M394.7 590.6V600.9M397.9 596.9V612.5M400.9 647.4V662.1M403.8 672.7V685.5M406.7 637.1V647.3M409.8 591.4V603.6M412.8 600.6V615.9M415.6 628.1V642.6M418.7 630.9V643.6M421.7 622V637.4M424.6 616.9V632.4M427.6 619.5V633.8M430.7 628.1V642.3M433.9 632.2V647.3M436.7 669.5V683.2M439.9 672.7V687.9M443 650V664M446 674.5V689.9M448.9 688.6V703.6M452 685.4V701.1M454.9 677.7V693.3M457.7 665.7V680.1M460.6 666.9V679.6M463.5 675.1V689M466.5 693.4V707.1M469.6 683.1V698.8M472.8 686.7V700.8M475.9 690.9V705.9M478.8 695.7V709.5M481.6 697V708.7M484.6 694.2V705.9M487.8 692.1V703.6M490.9 667.6V682.7M494 642.1V657.8M496.9 633.6V644.4M500.1 631.1V646.7M503.2 633.4V647.8M506.2 629.7V642.1M509.4 660.2V673.4M512.5 674V688.6M515.4 651.2V666.7M518.4 646.3V660.7M521.5 658.7V674M524.4 664.3V677.6M314.2 685.1V699.8M317 668V682.8M320 651.3V666.9M322.9 654.6V667.8M326.1 662.2V676.6M328.9 669.1V682.1M331.8 692.4V706M334.7 708.3V722.2M337.6 691.3V706.3M340.4 678.2V691.3M343.3 690.7V704M346.5 699.1V710.2M349.7 700.9V715.8M352.4 701.6V716.2M355.4 701.8V717.3M358.5 715.7V730.5M361.4 715.9V730.1M364.3 718.6V731.2M367.2 724.4V738.1M370 716.3V731.7M372.9 719.3V731.5M375.9 724.1V739.2M378.8 735.7V750.8M381.9 741.3V754.5M385 734.3V749.7M387.8 749.1V763.7M390.9 754.7V768.3M393.7 787.9V803.6M397 792.7V806.8M400 779.8V791.2M403.2 776.4V791.2M406.2 780.9V796.1M409.3 769.1V783.4M412.2 783.5V795.3M415 758V773.4M418 750.4V763.5M421 767.1V782M424.2 773.6V787.8M427.2 747.4V762.9M430 754.3V767.2M433.2 780.1V794.5M436 754.4V769.1M439.1 759.3V774.7M442.1 776.4V789M445 797.8V810.3M447.9 799.9V815.5M451 799.9V815.2M454 813V827.8M457.1 797.2V807.6M460.2 814.5V829.8M463.2 813.5V828.7M466.3 837V852.4M469.4 814.2V829.9M472.5 807V820M475.4 795.1V810.5M478.5 774.1V788.2M481.6 735.1V747.2M484.4 725.2V738M487.1 730.6V746.2M490.2 730V741.7M493.3 711.7V727M496.2 701.2V715M499.2 717.4V729.6M502.3 717.3V731.2M505.4 736.3V751.3M508.3 718.9V731.7M511.2 719.1V729.5M514 725.7V740.7M517.2 716.8V732M520.1 708.7V723.3M523.3 705.2V718.8M671.7 653.4V666.7M674.5 653.8V667M677.5 652.7V666.3M680.8 650.2V665.6M683.9 628.3V640.5M687 629.6V640.9M690 625.8V640.5M692.8 610.8V625M695.5 608V620.8M698.3 546.5V558.4M701.5 603.1V617.9M704.7 643V657.6M707.9 632.5V646M711 641.8V654.1M713.9 585.3V599.8M717.1 566.1V581.5M720.2 659.8V674.3M723.3 698.7V710.6M726.2 645.1V660.6M729 640.1V653.2M731.9 643.8V653.4M734.7 641.9V655.4M737.5 649V662.3M740.7 649.9V663.7M743.8 661.7V675.6M747 662.7V677.4M750.1 664.4V679.4M753.3 647.9V662.2M756.2 609.6V623.8M759.1 618.2V633.8M762 633.7V647.4M765 607.8V623.1M768 584.3V598.4M770.9 582.5V597.9M774 607.4V619.7M777.1 642.2V658M779.9 640.5V653.5M782.9 632V644.6M785.8 630.4V645.7M788.8 633.4V647.9M791.7 636.7V651.6M794.6 636.4V651M797.4 626.4V641.1M800.5 638.8V651.9M803.4 656.5V670.1M806.2 657.2V671.9M809.2 657.2V671.8M812.3 625.9V637.8M815.1 649.4V665M818 646V660.5M820.8 637.6V651.5M823.8 619.6V634M826.9 645.2V660.1M829.8 637.4V652.9M832.7 653.7V668.7M835.5 657.4V670.5M838.7 684.4V697.5M841.5 683.3V699M844.4 655.2V670.4M847.4 678.6V693.7M850.2 666.9V679.6M853.1 653.9V668.4M856 644.1V659.5M859.1 650.7V663.5M861.9 653.5V666.1M865 652.6V668.1M868 673.1V688.3M870.9 676.2V691.5M873.8 659V672M876.6 657.3V672.8M879.4 643.8V658.5M882.6 640.5V655.4M885.7 645.1V657.5M888.6 610.8V624.4M891.6 614.9V630.2M894.7 614V628.2M897.8 630.3V645.9M900.6 594.7V610.4M903.9 649.2V664.9M906.9 650.7V665.6M909.8 652.6V666.3M912.8 632.9V646.2M915.7 614.3V629.6M918.8 597.1V610.9M921.9 581.4V597M925 584.5V598.5M928.1 602V616.9M931 601.5V615M934.1 610.3V623.3M937.1 610.3V623.2M940.3 574.6V589.5M943.4 590.8V605.8M946.4 593.8V604.9M949.6 599.9V613.1M952.8 632V647.8M955.6 653V668.3M958.8 660.5V673.9M962 618.7V631.8M965.1 662.4V676.1M968.3 669.1V684.4M971.5 684.1V699.5M974.4 682.3V697.7M977.2 689.3V702.4M672.4 700.5V715.4M675.2 704.2V717.6M677.9 713.4V728.6M681.1 706.9V722.1M684.1 717.7V732.4M687.2 730.5V739.9M690 706.7V721.2M692.9 719.3V734.4M696 721.6V735.7M698.8 702.5V717.8M701.7 722.7V737M704.5 719.1V734.9M707.7 722.3V737.8M710.8 729.6V742.7M713.7 723.8V736.4M716.6 724.1V738.5M719.8 723.1V737.9M722.8 743.4V757.1M725.7 758.5V772.3M728.7 729.3V743.8M731.6 721.7V735.3M734.7 721.9V737.4M737.8 720V734.3M740.8 719.2V735M743.9 725.8V734.9M747 727.5V742.2M750.1 708.4V723.4M753.2 712.3V725.5M756.2 724.6V739.6M759.5 720.7V736.3M762.5 707.6V722.4M765.6 715V730.2M768.8 706.9V722.2M771.9 697.3V713.1M774.9 712.5V727.9M777.7 729.8V743.9M780.6 713.1V727.6M783.3 696.9V712M786.1 710.8V723.4M789.2 722.5V735.2M792.1 706.9V720.5M795.4 713V727.9M798.4 724.3V736.4M801.3 735V750.8M804.6 752.5V767.1M807.5 776.2V791M810.3 762.8V776.7M813.5 735.3V749.8M816.5 720.1V731.9M819.3 744.5V757.6M822.3 712.4V725.1M825.4 721.9V736.2M828.3 738.2V753.2M831.4 763.5V777.1M834.5 746.2V760.2M837.4 752.3V766.1M840.5 744V758M843.5 729.6V745.3M846.3 730.6V745.5M849.4 737.2V751.5M852.5 746V757.8M855.7 746.5V761.7M858.8 746.9V759.3M861.9 748.1V762.6M864.8 752.4V767.1M867.7 758.8V773.6M871 754.3V769.6M874 736.9V751.5M877 723.2V737.2M880.1 715.6V730.6M883.1 713.2V726.3M886.2 710.3V721.7M889.2 706.8V721.6M892.2 703.5V718.8M895.4 703V718M898.1 705.5V720M901.3 714.2V725.2M904.1 710.3V725.9M906.9 711.6V726.8M909.7 711.4V726.6M912.5 708.2V721.7M915.4 700V715M918.5 696.8V709.3M921.8 675.5V687.7M924.5 671.5V687.1M927.4 672.8V687.3M930.4 672.6V687.7M933.5 673.6V687.8M936.3 676.3V691.9M939.1 669.7V681.2M942.1 668.1V682.3M945.1 669.4V682.9M948 680.2V690.4M951.2 693V707.6M954.3 716V730.4M957.3 733.1V747M960.3 738.4V752.6M963.5 734V747.5M966.3 739V752.5M969.5 756.9V768.1M972.5 750.4V764.5M975.7 758.5V773.9M850.1 578V583.8M850.7 583.9V596.5M850.6 576.6V585.8M850.7 580.8V586.2M850.9 577.1V590M852.1 585.7V590.7M851.5 579.4V587.4M851.7 588.2V594.9M852.4 585.5V591.9M852.9 590.8V601M852.3 583.9V591.5M852.6 598.5V607.7M853.4 595.9V602.6M853.8 596.7V605.6M853.2 585.8V597.8M854.1 586.6V594.9M854 593.6V603.9M854.2 595.6V604.5M855.1 582.4V592.7M854.6 583.8V594.1M855.3 591.9V601.2M855.7 583.5V595.8M855.6 583.7V594.3M855.7 588.4V596.1M855.6 591.7V602.2M856.9 594.3V601.2M856.4 582.6V592.8M857 585.6V596.9M856.8 595.3V605.4M857.2 600.4V605.8M857.7 594.8V604.4M857.8 599.3V607M858.2 606.8V612.7M857.9 593V600.3M858.7 588.3V600.9M859.1 592.4V604.6M859 609.4V615.5M859.5 586V591.3M859.1 610.7V617.2M859.1 583.1V595.4M859.6 599.7V612.2M859.8 586.4V593.4M860.6 605.4V615.4M860.1 615.4V621.9M861.1 591.1V598.2M861.1 606.8V614.2M861.2 586.4V596.5M861.1 600.7V611.4M861.8 596.7V603.1M861.6 610V622.1M861.8 581.2V591M862.7 579.5V588.7M863 578.7V585.7M862.3 600.6V606.3M863.5 588.4V598.8M863.7 600.3V611M863.6 616.8V628.1M171.8 703.5V734M181.7 724V742M215 725V772M231 708V750M256 647.5V676.5M266.8 649V673M276.2 636V669M288 641V680M297 644V676M302.5 646V676M291.8 690V726M308 691V747M319.5 570V660M323.8 582V660M335.5 551.5V638.5M345.8 576.5V643.5M361.2 564V628M383.8 608V680M395 577V680M411.8 575.5V661.5M426.2 589V665M442.5 636V700M450.8 568.5V722.5M459 666V720M470.8 666V695M498.2 620V680M505.5 608V652M518 638.5V700M333.8 680V754M360 700V752M367.5 700V755.5M380 733.5V780.5M388.8 740V787M396.2 760V844M405 760V801M413.8 760V804M422.5 750V798M433.8 745V797M445.5 800V891.8M447 800V830M458.2 790V835M465.8 790V853.5M471.2 790V836M478.8 745V787M473.8 780V824M505.5 700V761.5M515 700V743.5M682 601V653M692.5 596V620M697.5 530.5V583.5M700.5 538V680M701 590V626M709.5 613V680M714.2 555V828.5M718 553.5V860M756 605V680M783 622V680M795.5 592V680M811.5 516V720M823.2 613.5V690M829.5 631V653M844.5 655V700M870.5 577V595M862.5 569V659M880.5 622V642M888 590V680M900.8 595V642M932.5 594V613M940.5 566.5V617.5M946.8 598.5V630M962 611.5V634.5M962 643V659M677.5 700V730M685.5 697V785M693.8 700V782M697 700V785.5M708.8 717V794M724.5 740V778M746.2 720V784M758.2 704.5V788.5M767.5 710V772M775.8 715V777M788.8 700V750M807.5 709V823M820 710V771M830 720V788M832.5 720V783.5M838.8 720V768.5M846.2 760V773M860 730V780M868.8 762V778M900.8 707V760M896 714V726M926.2 670V740M926.2 743.5V793.5M950 698.5V723.5M969.5 740V777M936 684V696" fill="none" stroke="#008000" stroke-width="3.1"/>
<path d="M143.5 556.8h0M143.8 557h0M144.1 556.9h0M144.6 564.7h0M145.3 562.9h0M145.6 575h0M146.2 570.4h0M146.9 592.4h0M147.5 595.4h0M147.9 582h0M148.6 587.6h0M149.4 601.6h0M149.8 608.6h0M150.2 612.6h0M150.8 605.7h0M151.2 612.4h0M151.6 611.7h0M151.9 622.8h0M152.4 621.5h0M153 618.6h0M153.6 621.4h0M154.3 630.9h0M154.8 638.5h0M155.6 641.5h0M156 636.9h0M156.5 642.2h0M156.9 658.3h0M157.7 663h0M158.2 659.4h0M158.7 680.6h0M159.3 666.9h0M159.8 682.3h0M160.2 692.5h0M160.5 690.1h0M168.3 720h0M172 742.1h0M174.5 731h0M177.9 750.8h0M181.2 744.8h0M184.8 750.5h0M187.9 761.8h0M168.2 735h0M171.6 739.8h0M174.7 751.8h0M178.4 755.8h0M181 755.4h0M184.5 767.9h0M187 772.7h0M180.2 762.4h0M179.3 761.4h0M173.9 729.4h0M188.5 762.9h0M179.6 755.6h0M175.2 752.1h0M179 761h0M183.2 760h0M181.5 765.2h0M172.7 739.7h0M168.4 726.1h0M175 742.8h0M180.7 757h0M171.6 735.2h0M183.3 768.2h0M168.4 734h0M172.6 734.6h0M184.5 769h0M171.2 727.4h0M180.9 747.3h0M178.4 745.7h0M187.1 763.7h0M172.7 727.4h0M168.4 734.4h0M183 765.9h0M183.8 748.8h0M189 758.3h0M192.7 771h0M196.2 778.4h0M198.9 762.1h0M201.1 754.2h0M189.6 782.8h0M192.7 792.8h0M194.9 796.1h0M198.7 785.5h0M201.4 772.2h0M199.2 768.9h0M198.4 784.5h0M200.7 777.3h0M193.2 792.8h0M198 782h0M195 777.9h0M194 776h0M194.4 794h0M194.3 784.3h0M193.1 789.6h0M197.3 781.8h0M194.7 790.8h0M202.2 757.3h0M198.1 784.6h0M191.5 777.1h0M194.6 783h0M203.1 734.4h0M205.6 734.7h0M208.9 734.7h0M211.5 736.5h0M215.1 731.6h0M218.1 729.6h0M220.7 725.6h0M223.1 714.4h0M225.5 715.3h0M228.9 712.4h0M202.6 757.5h0M206.2 751.9h0M209.4 752.7h0M212.8 756.8h0M215.4 757.2h0M218.9 751.1h0M221.3 743h0M225.1 736.7h0M227.5 732.7h0M207.9 749.1h0M215.1 751.3h0M219 747.1h0M230.5 719.9h0M208.4 750.6h0M209.6 743.2h0M210 752.2h0M223.8 728.9h0M215.5 734.1h0M204.2 733.6h0M216.9 729.3h0M208.6 733.9h0M225.1 722.7h0M211 736.3h0M203.4 734.3h0M219.3 746h0M226.4 720.5h0M213.3 752.1h0M223.7 724.1h0M217 741.8h0M217.9 741.4h0M229.7 721.4h0M225.3 731.2h0M203.5 742.8h0M222.6 740.2h0M215.7 730.7h0M229.3 726.7h0M208.8 735.6h0M210.1 747.9h0M204.9 730.5h0M214.7 746.3h0M205.7 728.6h0M220.5 747.9h0M237 694.7h0M239.4 683.6h0M243.2 686.6h0M246.8 685.6h0M235.8 701.1h0M238.5 698.3h0M242.2 701.1h0M245.2 695h0M248.3 701.3h0M239.8 686.3h0M235.7 696.7h0M243.9 691h0M240.1 697.7h0M243 684.9h0M248.8 698.2h0M241.7 686.1h0M239.2 693.5h0M240.9 688.8h0M249 686.4h0M249.1 689.5h0M247.8 697.5h0M248.9 694.5h0M238.9 692.6h0M236.9 689.9h0M238.9 693.5h0M240.1 701h0M260 671.1h0M262.9 696.5h0M269.2 670.6h0M275.1 670.5h0M278 684.9h0M257.8 697.8h0M260.8 693.7h0M273.2 697.8h0M279.2 694.8h0M282.1 698.1h0M262.3 675.7h0M275 701.1h0M275.3 673.5h0M259.6 677.5h0M259.4 684.4h0M259 683.5h0M257.3 675.1h0M264.3 693.3h0M253.8 682.3h0M256.3 690.6h0M273.2 693.5h0M277 675h0M255.4 690.2h0M260 694.3h0M259.2 690.8h0M280.5 688.6h0M274.3 678.1h0M269.6 692.5h0M262.1 700.3h0M278 682.4h0M266.1 694.5h0M280.7 668.7h0M274.2 696.2h0M267.3 675.4h0M284 662.6h0M290.2 655.9h0M293.2 656.6h0M299.2 661.2h0M304.9 660.5h0M290.9 704.1h0M297.2 702.4h0M300.3 706.4h0M305.9 714.8h0M309.1 712.5h0M300.2 683.8h0M292.1 684.9h0M295.8 702.7h0M295.4 660h0M306.2 688h0M294.9 708.4h0M292.7 685.7h0M301.9 666.7h0M289.2 701.9h0M296.1 669.9h0M291.8 695.7h0M300.6 685.9h0M307.6 710.5h0M295.5 690.7h0M305 704h0M295.8 656.5h0M301.4 711.5h0M286.7 662.6h0M295.1 674.2h0M308.5 710h0M300 655.8h0M304.5 703h0M314.6 616h0M314.6 623.9h0M313.9 630.3h0M314.1 634.8h0M314.2 640.7h0M314.3 646.9h0M314.5 653.3h0M314.3 660.3h0M313.9 666.3h0M314 674.2h0M313.7 679.4h0M313.8 687.4h0M313.7 693h0M523.9 666.6h0M524 674.2h0M524.4 682.2h0M523.9 687.9h0M523.3 695.1h0M523.9 700.7h0M523.4 706.1h0M319.4 593h0M325.1 592.4h0M334.3 615h0M379.8 652.4h0M415.6 632.6h0M460.6 676.7h0M487.8 698.9h0M509.4 663.8h0M337.6 701.8h0M349.7 710.9h0M372.9 724.6h0M387.8 758.6h0M390.9 763.7h0M400 785.4h0M451 811.6h0M475.4 806.9h0M481.6 737.3h0M514 720.1h0M520.1 717.9h0M492.4 692.3h0M335.4 714.1h0M448.2 738.1h0M447.8 791.7h0M500.8 702h0M500.7 668.1h0M361.9 613.6h0M401.1 778.5h0M387 735.8h0M489.5 734.2h0M418.9 677.8h0M464.3 691.3h0M336.6 634.9h0M385 671.3h0M476 730.1h0M314.5 644.5h0M378.8 733.7h0M342 645.4h0M471.8 681.7h0M326 616.5h0M343.3 664.5h0M421.4 741.9h0M453.9 768h0M368.6 703.4h0M480 759h0M511.1 722.8h0M481.7 732.4h0M332.8 674.2h0M463.9 756.4h0M385.5 716.9h0M453.1 814.6h0M422.9 712.3h0M459.9 786.2h0M354.7 629.6h0M477.1 711.6h0M478.4 744.1h0M502.6 727.3h0M520.4 700.4h0M417 653.3h0M411.2 617.4h0M415.3 631.9h0M372.6 718h0M441.6 712.2h0M486.8 738.7h0M315.4 632.8h0M365.3 656.2h0M440.2 762.5h0M444.3 694.1h0M413.2 742.1h0M419.6 648.9h0M472.1 770.8h0M487.3 741.6h0M380.7 718.8h0M428.9 699h0M404.2 692h0M352.9 653.1h0M373.8 682h0M523.2 682.4h0M384 658.1h0M324.7 602.7h0M431.7 778.8h0M477.4 717.4h0M370.9 683.2h0M328.8 620.5h0M413.3 630.5h0M497.2 695.8h0M469.6 696.8h0M388.4 698.4h0M501.8 653.6h0M473.6 736.6h0M381.8 717.1h0M504.7 712.1h0M405.5 734.7h0M391 615.9h0M381 650h0M505.4 719.6h0M472.8 759.8h0M478.3 718.2h0M448.7 776.5h0M468.4 772.8h0M315.8 665.8h0M403.9 733.1h0M479.1 747.6h0M507.1 648.4h0M423.7 786.7h0M458.7 763.3h0M514.3 712.5h0M431.2 642.6h0M438.8 745.5h0M405.2 775.5h0M376 705.8h0M460.7 759.5h0M411.8 591h0M321.5 600.2h0M363 686.6h0M518.7 694h0M469.6 774.1h0M435.2 716h0M373.3 674.2h0M330.7 682.9h0M453 756.5h0M385 628.7h0M498.7 699.8h0M514.7 719.2h0M478.2 779.3h0M395.8 619.6h0M387.8 653.4h0M394.2 629.4h0M474 748.3h0M425.8 736.8h0M485.4 715.4h0M402.6 755.4h0M401.3 742.5h0M471.7 692.6h0M433 694.4h0M321.2 632.4h0M391.8 649.9h0M369.5 687.8h0M328.7 652.2h0M320.9 642h0M413.6 730.6h0M342.9 670.3h0M368.6 722.6h0M354.1 628.4h0M408.4 741.8h0M510.6 688.5h0M393.8 730.1h0M344.1 647.8h0M433.6 682.3h0M327.3 647.1h0M317.2 624h0M452.9 796.3h0M440.9 767.4h0M440.8 715h0M389.3 625.2h0M378.5 635.1h0M487.2 701.8h0M431.8 728.9h0M386.8 683.2h0M455.6 765.2h0M461.2 788.7h0M455.7 736.7h0M455.5 781.5h0M493.5 714h0M424.8 641h0M432.7 782.1h0M479.6 758.4h0M443.2 740.2h0M406.8 772.3h0M347.6 708.7h0M421.2 720h0M455.2 723h0M446.1 810h0M480.4 714.9h0M484.5 719.3h0M387.8 679.4h0M462.5 772.6h0M325.6 600.8h0M442.1 758.9h0M321 612.1h0M505.2 647.4h0M416.6 675.2h0M503.6 640.8h0M422.9 751.4h0M437.7 743.5h0M372.6 692h0M389 690.8h0M431.3 776.6h0M431.8 687.5h0M416.3 752.6h0M519.7 697.4h0M389.9 670.6h0M498.1 643.7h0M418 700.2h0M672 656.2h0M672.3 663.9h0M672.3 671.6h0M672.4 678.3h0M672.3 686h0M672 692.5h0M672.4 698.7h0M672.8 705.3h0M977.4 692.8h0M976.8 700.7h0M977.6 706.2h0M976.7 714.1h0M976.8 719.2h0M976.7 726.2h0M977.4 733.6h0M977.7 740.2h0M977.5 748.1h0M977.1 753.7h0M977.6 758.7h0M977.2 765.6h0M692.8 615.8h0M717.1 576.5h0M740.7 653.5h0M747 673.4h0M800.5 643.9h0M894.7 624.6h0M928.1 606.6h0M675.2 713.5h0M696 729.1h0M731.6 719.8h0M753.2 716.8h0M783.3 705.4h0M801.3 746.3h0M810.3 772.1h0M858.8 755.5h0M906.9 721.5h0M948 673.8h0M951.2 703h0M857.4 743.8h0M848.1 728.5h0M901.5 720.6h0M676.1 663.7h0M827.5 681.5h0M929.9 635.9h0M893.8 636.2h0M790.1 688.5h0M857.8 660.6h0M800.4 687.8h0M766.6 632.7h0M858.5 724.3h0M672.5 686h0M760.3 658.4h0M835.4 692.5h0M880.3 686.4h0M844 731.1h0M879.2 702.4h0M789.7 713.2h0M878 660.2h0M839.7 697.2h0M768.1 657.4h0M852.6 715.3h0M974.5 711.4h0M794.4 704.8h0M895.6 624.1h0M831.4 720.5h0M908.1 714.9h0M810 741.2h0M673.7 676.6h0M844.9 738.9h0M769.8 588h0M896.2 653.1h0M876.3 704.8h0M701.5 691.3h0M799.8 643.6h0M917.7 666.6h0M937.2 677.5h0M740.4 680.5h0M708.1 705.4h0M928.3 624.7h0M916.4 625.2h0M674.3 692h0M864.9 679.6h0M740 672.4h0M829.6 749h0M734.3 719.2h0M870.7 760.7h0M801.2 738.1h0M764.3 627.9h0M713.8 701.8h0M677.7 702.3h0M833.7 726.5h0M891.1 624.7h0M880.5 654.8h0M820.5 645.8h0M740.1 728.6h0M759 696.7h0M854.4 690h0M826.2 682.7h0M936.7 683.5h0M942.8 601.7h0M977.6 725.8h0M873.1 667.2h0M846.4 719.9h0M820.1 668h0M896 675.1h0M893.1 637.7h0M847.3 689.9h0M840.4 752.9h0M823.6 630.3h0M684 648.8h0M812.4 715.5h0M776.9 724.6h0M747 684.6h0M726.4 756.1h0M738.7 674.6h0M850.5 699.3h0M974.8 696.5h0M752.7 656.7h0M946.4 605h0M684.3 702.1h0M875.3 721.4h0M682.1 621.8h0M705.2 672.7h0M736.4 691.1h0M780 693.8h0M712.9 673.4h0M974.6 722.3h0M961.7 734.2h0M865.7 684.7h0M861.5 680.2h0M708.4 668.4h0M777 738.6h0M702.4 721.4h0M850.1 739.5h0M744 707.1h0M923.6 608.9h0M686.7 688.8h0M723.2 756.7h0M860.6 696.7h0M848 715.1h0M766 714.6h0M942.7 655.7h0M698.9 579.7h0M802.5 718.2h0M741.7 706h0M715.4 729.2h0M727.9 662.8h0M909.7 667.2h0M941.9 654.1h0M938.5 667.1h0M728.4 685.7h0M953.7 683.2h0M814 671.2h0M962.3 634.4h0M935.2 661.3h0M836.7 674.8h0M942.6 613.5h0M883.6 658.4h0M844.7 733.9h0M855.8 738.4h0M744.3 707.9h0M949.5 644.2h0M716.8 696.5h0M706 692.1h0M963.7 687.2h0M907.9 688.4h0M809.7 666.1h0M677.7 670.6h0M690.3 646.3h0M716.7 607.1h0M853.3 684.9h0M951.1 685.8h0M692.7 652.4h0M698.5 678.3h0M923.7 611.4h0M835.6 728.8h0M720.8 736.8h0M835 676.1h0M905.5 704.3h0M706.7 702.4h0M758.3 729.5h0M890.2 675.2h0M781.3 694h0M933.1 611.5h0M791.5 694.9h0M758.5 683.2h0M918.8 622.5h0M798.6 710.2h0M864.2 692.5h0M828.3 738.2h0M772.6 653.7h0M739.2 701.2h0M895.1 637.1h0M849.1 712h0M963.7 674.9h0M827.4 740.7h0M677.7 664.8h0M675.8 671.6h0M714.3 662h0M825.3 714.5h0M719.6 702.8h0M864 708.5h0M943.8 640.9h0M973.2 733.9h0M692.3 708.4h0M974.3 707.1h0M868 722.8h0M932.9 640.5h0M893.9 643.4h0M838.3 740.1h0M970.5 756h0M695.2 662.1h0M926.8 630.3h0M700.8 680.9h0M737.9 679.2h0M866.8 761.3h0M794.7 695h0M902.7 663.8h0M760.3 690.4h0M756.3 632.7h0M811 688.5h0M791.1 643.2h0M837.5 707.4h0M736.1 658.5h0M871.1 749.1h0M939.9 648.7h0M972.3 711.9h0M808.2 668h0M831.6 716.8h0M840.8 738.8h0M954.9 659.9h0M945.9 619.8h0M675 697.9h0M974.4 696.3h0M832.8 741.7h0M843.3 707.1h0M734.7 677.7h0M946 668.5h0M742.8 681.7h0M783.2 658.3h0M894.8 642.7h0M746.5 717.6h0M954.2 646.7h0M738.4 689.8h0M793.1 691.1h0M919.7 675.6h0M765.6 683.9h0M728.7 680h0M806.9 693h0M962.4 737.6h0M905.4 700.9h0M871 737.5h0M869.9 724h0M897 673.1h0M919.6 668h0M882.4 651.1h0M861.5 718h0M931.4 608.7h0M899.6 639.9h0M880.2 663.9h0M710 697.7h0M950.9 638h0M833.5 759.1h0M723.1 737.6h0M934.9 655.1h0M836.7 669h0M829.9 683.9h0M755.9 685h0M728.9 716.2h0M754.1 714.5h0M792.3 648.8h0M791.7 644.1h0M967.6 684.2h0M957.4 712h0M845.3 704.7h0M684.7 714.8h0M975.7 744.4h0M852.5 685h0M827.1 681.3h0M938.3 671.1h0M692.2 720.8h0M892.3 633.5h0M931.4 624.8h0M723.4 714.6h0M829.3 703.5h0M950.5 683.3h0M679.9 704.5h0M703.7 651.3h0M850.1 580.9h0M850.7 590.2h0M850.6 581.2h0M850.7 583.5h0M850.9 583.5h0M852.1 588.2h0M851.5 583.4h0M851.7 591.5h0M852.4 588.7h0M852.9 595.9h0M852.3 587.7h0M852.6 603.1h0M853.4 599.2h0M853.8 601.1h0M853.2 591.8h0M854.1 590.8h0M854 598.7h0M854.2 600h0M855.1 587.6h0M854.6 589h0M855.3 596.6h0M855.7 589.7h0M855.6 589h0M855.7 592.3h0M855.6 596.9h0M856.9 597.8h0M856.4 587.7h0M857 591.2h0M856.8 600.3h0M857.2 603.1h0M857.7 599.6h0M857.8 603.2h0M858.2 609.8h0M857.9 596.7h0M858.7 594.6h0M859.1 598.5h0M859 612.4h0M859.5 588.7h0M859.1 613.9h0M859.1 589.3h0M859.6 606h0M859.8 589.9h0M860.6 610.4h0M860.1 618.6h0M861.1 594.7h0M861.1 610.5h0M861.2 591.5h0M861.1 606h0M861.8 599.9h0M861.6 616.1h0M861.8 586.1h0M862.7 584.1h0M863 582.2h0M862.3 603.4h0M863.5 593.6h0M863.7 605.7h0M863.6 622.4h0M171.8 718.5h0M181.7 733h0M256 662h0M266.8 661h0M276.2 652.5h0M308 719h0M335.5 595h0M345.8 610h0M361.2 596h0M411.8 618.5h0M426.2 627h0M450.8 645.5h0M470.8 680.5h0M505.5 630h0M333.8 703.5h0M333.8 712h0M333.8 721h0M380 757h0M445.5 868h0M447 815h0M478.8 753.5h0M478.8 770h0M473.8 788.5h0M473.8 816h0M682 627h0M692.5 608h0M697.5 557h0M701 600h0M701 616h0M811.5 618h0M829.5 642h0M870.5 586h0M880.5 632h0M900.8 618.5h0M900.8 628.5h0M932.5 603.5h0M940.5 592h0M962 623h0M962 651h0M685.5 741h0M708.8 755.5h0M724.5 748h0M724.5 760h0M724.5 772h0M746.2 739h0M746.2 753.5h0M758.2 746.5h0M767.5 741h0M775.8 746h0M807.5 744h0M807.5 755h0M807.5 766h0M846.2 766.5h0M868.8 770.5h0M900.8 733.5h0M896 720h0M926.2 711h0M926.2 768.5h0M950 711h0M936 690h0M770 589.8h0M769 595.8h0M771 603h0M769.5 609.7h0M771.5 615.8h0M768 620h0M772.5 624.2h0M766.5 617.9h0M770 629.3h0M923.5 588.4h0M921.5 602.8h0M925.7 598.8h0M927.3 608.2h0M923 612.6h0M977 691.7h0M976 695.1h0M978 709.5h0M506.5 642.6h0M507.5 652.1h0M506 660h0M503 644h0M499.5 646.4h0M498 661h0M324 598.4h0M323.5 609.1h0M695.5 601.2h0M702.5 617.1h0M702.5 621.9h0" fill="none" stroke="#008000" stroke-width="7.8" stroke-linecap="round"/></g>
<rect x="102.9" y="1.3" width="916.1" height="413" fill="none" stroke="#000" stroke-width="1.8"/>
<path d="M142.8 414.3v7.7M289.9 414.3v7.7M437 414.3v7.7M584 414.3v7.7M731.2 414.3v7.7M878.2 414.3v7.7M102.9 376.4h-7.7M102.9 321.7h-7.7M102.9 266.9h-7.7M102.9 212.1h-7.7M102.9 157.3h-7.7M102.9 102.5h-7.7M102.9 47.8h-7.7" stroke="#000" stroke-width="1.8" fill="none"/>
<text transform="translate(142.8,447.8) scale(1,1.05)" text-anchor="middle">46000</text>
<text transform="translate(289.9,447.8) scale(1,1.05)" text-anchor="middle">48000</text>
<text transform="translate(437,447.8) scale(1,1.05)" text-anchor="middle">50000</text>
<text transform="translate(584,447.8) scale(1,1.05)" text-anchor="middle">52000</text>
<text transform="translate(731.2,447.8) scale(1,1.05)" text-anchor="middle">54000</text>
<text transform="translate(878.2,447.8) scale(1,1.05)" text-anchor="middle">56000</text>
<text transform="translate(88.5,385.9) scale(1,1.035)" text-anchor="end">−6</text>
<text transform="translate(88.5,331.2) scale(1,1.035)" text-anchor="end">−4</text>
<text transform="translate(88.5,276.4) scale(1,1.035)" text-anchor="end">−2</text>
<text transform="translate(88.5,221.6) scale(1,1.035)" text-anchor="end">0</text>
<text transform="translate(88.5,166.8) scale(1,1.035)" text-anchor="end">2</text>
<text transform="translate(88.5,112) scale(1,1.035)" text-anchor="end">4</text>
<text transform="translate(88.5,57.3) scale(1,1.035)" text-anchor="end">6</text>
<rect x="102.9" y="497" width="916.1" height="413.7" fill="none" stroke="#000" stroke-width="1.8"/>
<path d="M142.8 910.7v7.7M289.9 910.7v7.7M437 910.7v7.7M584 910.7v7.7M731.2 910.7v7.7M878.2 910.7v7.7M102.9 903.6h-7.7M102.9 850.8h-7.7M102.9 798.1h-7.7M102.9 745.3h-7.7M102.9 692.5h-7.7M102.9 639.7h-7.7M102.9 586.9h-7.7M102.9 534.2h-7.7" stroke="#000" stroke-width="1.8" fill="none"/>
<text transform="translate(142.8,943.7) scale(1,1.05)" text-anchor="middle">46000</text>
<text transform="translate(289.9,943.7) scale(1,1.05)" text-anchor="middle">48000</text>
<text transform="translate(437,943.7) scale(1,1.05)" text-anchor="middle">50000</text>
<text transform="translate(584,943.7) scale(1,1.05)" text-anchor="middle">52000</text>
<text transform="translate(731.2,943.7) scale(1,1.05)" text-anchor="middle">54000</text>
<text transform="translate(878.2,943.7) scale(1,1.05)" text-anchor="middle">56000</text>
<text transform="translate(88.5,913.1) scale(1,1.035)" text-anchor="end">−8</text>
<text transform="translate(88.5,860.3) scale(1,1.035)" text-anchor="end">−6</text>
<text transform="translate(88.5,807.6) scale(1,1.035)" text-anchor="end">−4</text>
<text transform="translate(88.5,754.8) scale(1,1.035)" text-anchor="end">−2</text>
<text transform="translate(88.5,702) scale(1,1.035)" text-anchor="end">0</text>
<text transform="translate(88.5,649.2) scale(1,1.035)" text-anchor="end">2</text>
<text transform="translate(88.5,596.4) scale(1,1.035)" text-anchor="end">4</text>
<text transform="translate(88.5,543.7) scale(1,1.035)" text-anchor="end">6</text>
<text x="561" y="975.5" text-anchor="middle">Epoch [MJD]</text>
<text transform="translate(18.6,450.3) rotate(-90)" text-anchor="middle">Difference Timing Residuals [<tspan font-style="italic">μ</tspan>s]</text>
</svg>
</body></html>
